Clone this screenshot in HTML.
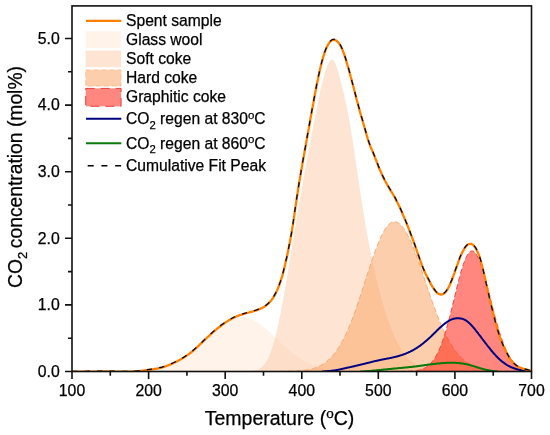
<!DOCTYPE html>
<html><head><meta charset="utf-8"><title>CO2 concentration vs Temperature</title>
<style>html,body{margin:0;padding:0;background:#fff}svg{display:block}</style></head>
<body>
<svg width="550" height="435" viewBox="0 0 550 435">
<rect width="550" height="435" fill="#fff"/>
<defs><clipPath id="c"><rect x="72.0" y="5.9" width="459.5" height="366.1"/></clipPath></defs>
<g clip-path="url(#c)">
<path d="M72.0,371.5L72.8,371.5L73.5,371.5L74.3,371.5L75.1,371.5L75.8,371.5L76.6,371.5L77.4,371.5L78.1,371.5L78.9,371.5L79.7,371.5L80.4,371.5L81.2,371.5L82.0,371.5L82.7,371.5L83.5,371.5L84.3,371.5L85.0,371.5L85.8,371.5L86.6,371.5L87.3,371.5L88.1,371.5L88.8,371.5L89.6,371.5L90.4,371.5L91.1,371.5L91.9,371.5L92.7,371.5L93.4,371.5L94.2,371.5L95.0,371.5L95.7,371.5L96.5,371.5L97.3,371.5L98.0,371.5L98.8,371.5L99.6,371.5L100.3,371.5L101.1,371.5L101.9,371.5L102.6,371.5L103.4,371.5L104.2,371.5L104.9,371.5L105.7,371.5L106.5,371.5L107.2,371.5L108.0,371.5L108.8,371.5L109.5,371.5L110.3,371.5L111.1,371.4L111.8,371.4L112.6,371.4L113.4,371.4L114.1,371.4L114.9,371.4L115.7,371.4L116.4,371.4L117.2,371.4L118.0,371.4L118.7,371.4L119.5,371.4L120.2,371.4L121.0,371.4L121.8,371.3L122.5,371.3L123.3,371.3L124.1,371.3L124.8,371.3L125.6,371.3L126.4,371.3L127.1,371.2L127.9,371.2L128.7,371.2L129.4,371.2L130.2,371.2L131.0,371.1L131.7,371.1L132.5,371.1L133.3,371.1L134.0,371.0L134.8,371.0L135.6,371.0L136.3,370.9L137.1,370.9L137.9,370.8L138.6,370.8L139.4,370.7L140.2,370.7L140.9,370.6L141.7,370.6L142.5,370.5L143.2,370.5L144.0,370.4L144.8,370.3L145.5,370.2L146.3,370.2L147.1,370.1L147.8,370.0L148.6,369.9L149.3,369.8L150.1,369.7L150.9,369.6L151.6,369.5L152.4,369.4L153.2,369.3L153.9,369.1L154.7,369.0L155.5,368.9L156.2,368.7L157.0,368.6L157.8,368.4L158.5,368.2L159.3,368.1L160.1,367.9L160.8,367.7L161.6,367.5L162.4,367.3L163.1,367.1L163.9,366.9L164.7,366.6L165.4,366.4L166.2,366.1L167.0,365.9L167.7,365.6L168.5,365.3L169.3,365.0L170.0,364.7L170.8,364.4L171.6,364.1L172.3,363.8L173.1,363.4L173.9,363.1L174.6,362.7L175.4,362.3L176.2,362.0L176.9,361.6L177.7,361.2L178.5,360.7L179.2,360.3L180.0,359.9L180.7,359.4L181.5,358.9L182.3,358.5L183.0,358.0L183.8,357.5L184.6,356.9L185.3,356.4L186.1,355.9L186.9,355.3L187.6,354.8L188.4,354.2L189.2,353.6L189.9,353.0L190.7,352.4L191.5,351.8L192.2,351.2L193.0,350.6L193.8,349.9L194.5,349.3L195.3,348.6L196.1,347.9L196.8,347.3L197.6,346.6L198.4,345.9L199.1,345.2L199.9,344.5L200.7,343.8L201.4,343.1L202.2,342.4L203.0,341.6L203.7,340.9L204.5,340.2L205.3,339.5L206.0,338.7L206.8,338.0L207.6,337.3L208.3,336.6L209.1,335.8L209.8,335.1L210.6,334.4L211.4,333.7L212.1,333.0L212.9,332.3L213.7,331.6L214.4,330.9L215.2,330.2L216.0,329.5L216.7,328.9L217.5,328.2L218.3,327.6L219.0,326.9L219.8,326.3L220.6,325.7L221.3,325.1L222.1,324.5L222.9,324.0L223.6,323.4L224.4,322.9L225.2,322.4L225.9,321.9L226.7,321.4L227.5,321.0L228.2,320.6L229.0,320.2L229.8,319.8L230.5,319.4L231.3,319.1L232.1,318.8L232.8,318.5L233.6,318.2L234.4,317.9L235.1,317.7L235.9,317.5L236.7,317.4L237.4,317.2L238.2,317.1L239.0,317.0L239.7,316.9L240.5,316.9L241.2,316.9L242.0,316.9L242.8,316.9L243.5,317.0L244.3,317.1L245.1,317.2L245.8,317.4L246.6,317.5L247.4,317.7L248.1,317.9L248.9,318.2L249.7,318.5L250.4,318.8L251.2,319.1L252.0,319.4L252.7,319.8L253.5,320.2L254.3,320.6L255.0,321.0L255.8,321.4L256.6,321.9L257.3,322.4L258.1,322.9L258.9,323.4L259.6,324.0L260.4,324.5L261.2,325.1L261.9,325.7L262.7,326.3L263.5,326.9L264.2,327.6L265.0,328.2L265.8,328.9L266.5,329.5L267.3,330.2L268.1,330.9L268.8,331.6L269.6,332.3L270.4,333.0L271.1,333.7L271.9,334.4L272.6,335.1L273.4,335.8L274.2,336.6L274.9,337.3L275.7,338.0L276.5,338.7L277.2,339.5L278.0,340.2L278.8,340.9L279.5,341.6L280.3,342.4L281.1,343.1L281.8,343.8L282.6,344.5L283.4,345.2L284.1,345.9L284.9,346.6L285.7,347.3L286.4,347.9L287.2,348.6L288.0,349.3L288.7,349.9L289.5,350.6L290.3,351.2L291.0,351.8L291.8,352.4L292.6,353.0L293.3,353.6L294.1,354.2L294.9,354.8L295.6,355.3L296.4,355.9L297.2,356.4L297.9,356.9L298.7,357.5L299.5,358.0L300.2,358.5L301.0,358.9L301.8,359.4L302.5,359.9L303.3,360.3L304.0,360.7L304.8,361.2L305.6,361.6L306.3,362.0L307.1,362.3L307.9,362.7L308.6,363.1L309.4,363.4L310.2,363.8L310.9,364.1L311.7,364.4L312.5,364.7L313.2,365.0L314.0,365.3L314.8,365.6L315.5,365.9L316.3,366.1L317.1,366.4L317.8,366.6L318.6,366.9L319.4,367.1L320.1,367.3L320.9,367.5L321.7,367.7L322.4,367.9L323.2,368.1L324.0,368.2L324.7,368.4L325.5,368.6L326.3,368.7L327.0,368.9L327.8,369.0L328.6,369.1L329.3,369.3L330.1,369.4L330.9,369.5L331.6,369.6L332.4,369.7L333.1,369.8L333.9,369.9L334.7,370.0L335.4,370.1L336.2,370.2L337.0,370.2L337.7,370.3L338.5,370.4L339.3,370.5L340.0,370.5L340.8,370.6L341.6,370.6L342.3,370.7L343.1,370.7L343.9,370.8L344.6,370.8L345.4,370.9L346.2,370.9L346.9,371.0L347.7,371.0L348.5,371.0L349.2,371.1L350.0,371.1L350.8,371.1L351.5,371.1L352.3,371.2L353.1,371.2L353.8,371.2L354.6,371.2L355.4,371.2L356.1,371.3L356.9,371.3L357.7,371.3L358.4,371.3L359.2,371.3L360.0,371.3L360.7,371.3L361.5,371.4L362.3,371.4L363.0,371.4L363.8,371.4L364.5,371.4L365.3,371.4L366.1,371.4L366.8,371.4L367.6,371.4L368.4,371.4L369.1,371.4L369.9,371.4L370.7,371.4L371.4,371.4L372.2,371.5L373.0,371.5L373.7,371.5L374.5,371.5L375.3,371.5L376.0,371.5L376.8,371.5L377.6,371.5L378.3,371.5L379.1,371.5L379.9,371.5L380.6,371.5L381.4,371.5L382.2,371.5L382.9,371.5L383.7,371.5L384.5,371.5L385.2,371.5L386.0,371.5L386.8,371.5L387.5,371.5L388.3,371.5L389.1,371.5L389.8,371.5L390.6,371.5L391.4,371.5L392.1,371.5L392.9,371.5L393.6,371.5L394.4,371.5L395.2,371.5L395.9,371.5L396.7,371.5L397.5,371.5L398.2,371.5L399.0,371.5L399.8,371.5L400.5,371.5L401.3,371.5L402.1,371.5L402.8,371.5L403.6,371.5L404.4,371.5L405.1,371.5L405.9,371.5L406.7,371.5L407.4,371.5L408.2,371.5L409.0,371.5L409.7,371.5L410.5,371.5L411.3,371.5L412.0,371.5L412.8,371.5L413.6,371.5L414.3,371.5L415.1,371.5L415.9,371.5L416.6,371.5L417.4,371.5L418.2,371.5L418.9,371.5L419.7,371.5L420.5,371.5L421.2,371.5L422.0,371.5L422.8,371.5L423.5,371.5L424.3,371.5L425.0,371.5L425.8,371.5L426.6,371.5L427.3,371.5L428.1,371.5L428.9,371.5L429.6,371.5L430.4,371.5L431.2,371.5L431.9,371.5L432.7,371.5L433.5,371.5L434.2,371.5L435.0,371.5L435.8,371.5L436.5,371.5L437.3,371.5L438.1,371.5L438.8,371.5L439.6,371.5L440.4,371.5L441.1,371.5L441.9,371.5L442.7,371.5L443.4,371.5L444.2,371.5L445.0,371.5L445.7,371.5L446.5,371.5L447.3,371.5L448.0,371.5L448.8,371.5L449.6,371.5L450.3,371.5L451.1,371.5L451.9,371.5L452.6,371.5L453.4,371.5L454.2,371.5L454.9,371.5L455.7,371.5L456.4,371.5L457.2,371.5L458.0,371.5L458.7,371.5L459.5,371.5L460.3,371.5L461.0,371.5L461.8,371.5L462.6,371.5L463.3,371.5L464.1,371.5L464.9,371.5L465.6,371.5L466.4,371.5L467.2,371.5L467.9,371.5L468.7,371.5L469.5,371.5L470.2,371.5L471.0,371.5L471.8,371.5L472.5,371.5L473.3,371.5L474.1,371.5L474.8,371.5L475.6,371.5L476.4,371.5L477.1,371.5L477.9,371.5L478.7,371.5L479.4,371.5L480.2,371.5L481.0,371.5L481.7,371.5L482.5,371.5L483.3,371.5L484.0,371.5L484.8,371.5L485.6,371.5L486.3,371.5L487.1,371.5L487.8,371.5L488.6,371.5L489.4,371.5L490.1,371.5L490.9,371.5L491.7,371.5L492.4,371.5L493.2,371.5L494.0,371.5L494.7,371.5L495.5,371.5L496.3,371.5L497.0,371.5L497.8,371.5L498.6,371.5L499.3,371.5L500.1,371.5L500.9,371.5L501.6,371.5L502.4,371.5L503.2,371.5L503.9,371.5L504.7,371.5L505.5,371.5L506.2,371.5L507.0,371.5L507.8,371.5L508.5,371.5L509.3,371.5L510.1,371.5L510.8,371.5L511.6,371.5L512.4,371.5L513.1,371.5L513.9,371.5L514.7,371.5L515.4,371.5L516.2,371.5L516.9,371.5L517.7,371.5L518.5,371.5L519.2,371.5L520.0,371.5L520.8,371.5L521.5,371.5L522.3,371.5L523.1,371.5L523.8,371.5L524.6,371.5L525.4,371.5L526.1,371.5L526.9,371.5L527.7,371.5L528.4,371.5L529.2,371.5L530.0,371.5L530.7,371.5L531.5,371.5L531.5,371.5 L72.0,371.5 Z" fill="#ffe7d5" fill-opacity="0.5"/>
<path d="M72.0,371.5L72.8,371.5L73.5,371.5L74.3,371.5L75.1,371.5L75.8,371.5L76.6,371.5L77.4,371.5L78.1,371.5L78.9,371.5L79.7,371.5L80.4,371.5L81.2,371.5L82.0,371.5L82.7,371.5L83.5,371.5L84.3,371.5L85.0,371.5L85.8,371.5L86.6,371.5L87.3,371.5L88.1,371.5L88.8,371.5L89.6,371.5L90.4,371.5L91.1,371.5L91.9,371.5L92.7,371.5L93.4,371.5L94.2,371.5L95.0,371.5L95.7,371.5L96.5,371.5L97.3,371.5L98.0,371.5L98.8,371.5L99.6,371.5L100.3,371.5L101.1,371.5L101.9,371.5L102.6,371.5L103.4,371.5L104.2,371.5L104.9,371.5L105.7,371.5L106.5,371.5L107.2,371.5L108.0,371.5L108.8,371.5L109.5,371.5L110.3,371.5L111.1,371.5L111.8,371.5L112.6,371.5L113.4,371.5L114.1,371.5L114.9,371.5L115.7,371.5L116.4,371.5L117.2,371.5L118.0,371.5L118.7,371.5L119.5,371.5L120.2,371.5L121.0,371.5L121.8,371.5L122.5,371.5L123.3,371.5L124.1,371.5L124.8,371.5L125.6,371.5L126.4,371.5L127.1,371.5L127.9,371.5L128.7,371.5L129.4,371.5L130.2,371.5L131.0,371.5L131.7,371.5L132.5,371.5L133.3,371.5L134.0,371.5L134.8,371.5L135.6,371.5L136.3,371.5L137.1,371.5L137.9,371.5L138.6,371.5L139.4,371.5L140.2,371.5L140.9,371.5L141.7,371.5L142.5,371.5L143.2,371.5L144.0,371.5L144.8,371.5L145.5,371.5L146.3,371.5L147.1,371.5L147.8,371.5L148.6,371.5L149.3,371.5L150.1,371.5L150.9,371.5L151.6,371.5L152.4,371.5L153.2,371.5L153.9,371.5L154.7,371.5L155.5,371.5L156.2,371.5L157.0,371.5L157.8,371.5L158.5,371.5L159.3,371.5L160.1,371.5L160.8,371.5L161.6,371.5L162.4,371.5L163.1,371.5L163.9,371.5L164.7,371.5L165.4,371.5L166.2,371.5L167.0,371.5L167.7,371.5L168.5,371.5L169.3,371.5L170.0,371.5L170.8,371.5L171.6,371.5L172.3,371.5L173.1,371.5L173.9,371.5L174.6,371.5L175.4,371.5L176.2,371.5L176.9,371.5L177.7,371.5L178.5,371.5L179.2,371.5L180.0,371.5L180.7,371.5L181.5,371.5L182.3,371.5L183.0,371.5L183.8,371.5L184.6,371.5L185.3,371.5L186.1,371.5L186.9,371.5L187.6,371.5L188.4,371.5L189.2,371.5L189.9,371.5L190.7,371.5L191.5,371.5L192.2,371.5L193.0,371.5L193.8,371.5L194.5,371.5L195.3,371.5L196.1,371.5L196.8,371.5L197.6,371.5L198.4,371.5L199.1,371.5L199.9,371.5L200.7,371.5L201.4,371.5L202.2,371.5L203.0,371.5L203.7,371.5L204.5,371.5L205.3,371.5L206.0,371.5L206.8,371.5L207.6,371.5L208.3,371.5L209.1,371.5L209.8,371.5L210.6,371.5L211.4,371.5L212.1,371.5L212.9,371.5L213.7,371.5L214.4,371.5L215.2,371.5L216.0,371.5L216.7,371.5L217.5,371.5L218.3,371.5L219.0,371.5L219.8,371.5L220.6,371.5L221.3,371.5L222.1,371.5L222.9,371.5L223.6,371.5L224.4,371.5L225.2,371.5L225.9,371.5L226.7,371.5L227.5,371.5L228.2,371.5L229.0,371.5L229.8,371.5L230.5,371.5L231.3,371.5L232.1,371.5L232.8,371.5L233.6,371.5L234.4,371.5L235.1,371.5L235.9,371.5L236.7,371.5L237.4,371.5L238.2,371.5L239.0,371.5L239.7,371.5L240.5,371.5L241.2,371.5L242.0,371.5L242.8,371.5L243.5,371.5L244.3,371.5L245.1,371.5L245.8,371.5L246.6,371.5L247.4,371.5L248.1,371.5L248.9,371.5L249.7,371.5L250.4,371.5L251.2,371.5L252.0,370.9L252.7,370.8L253.5,370.7L254.3,370.6L255.0,370.4L255.8,370.3L256.6,370.1L257.3,369.8L258.1,369.5L258.9,369.2L259.6,368.7L260.4,368.2L261.2,367.7L261.9,367.1L262.7,366.3L263.5,365.5L264.2,364.6L265.0,363.6L265.8,362.5L266.5,361.3L267.3,359.9L268.1,358.5L268.8,356.9L269.6,355.1L270.4,353.3L271.1,351.3L271.9,349.1L272.6,346.8L273.4,344.3L274.2,341.6L274.9,338.8L275.7,335.8L276.5,332.6L277.2,329.3L278.0,325.9L278.8,322.3L279.5,318.5L280.3,314.7L281.1,310.7L281.8,306.6L282.6,302.5L283.4,298.2L284.1,293.9L284.9,289.5L285.7,285.0L286.4,280.5L287.2,276.0L288.0,271.4L288.7,266.7L289.5,262.1L290.3,257.4L291.0,252.8L291.8,248.1L292.6,243.5L293.3,238.9L294.1,234.3L294.9,229.7L295.6,225.1L296.4,220.5L297.2,216.0L297.9,211.5L298.7,207.0L299.5,202.5L300.2,198.1L301.0,193.6L301.8,189.2L302.5,184.8L303.3,180.5L304.0,176.1L304.8,171.8L305.6,167.5L306.3,163.3L307.1,159.0L307.9,154.8L308.6,150.6L309.4,146.5L310.2,142.4L310.9,138.3L311.7,134.3L312.5,130.2L313.2,126.3L314.0,122.3L314.8,118.4L315.5,114.5L316.3,110.7L317.1,106.9L317.8,103.1L318.6,99.4L319.4,95.7L320.1,92.1L320.9,88.6L321.7,85.3L322.4,82.0L323.2,78.9L324.0,76.0L324.7,73.3L325.5,70.7L326.3,68.4L327.0,66.3L327.8,64.5L328.6,62.9L329.3,61.6L330.1,60.7L330.9,60.0L331.6,59.7L332.4,59.7L333.1,60.1L333.9,60.9L334.7,62.1L335.4,63.7L336.2,65.6L337.0,67.8L337.7,70.3L338.5,72.9L339.3,75.7L340.0,78.6L340.8,81.6L341.6,84.6L342.3,87.7L343.1,90.8L343.9,94.1L344.6,97.4L345.4,100.9L346.2,104.4L346.9,108.1L347.7,112.0L348.5,115.9L349.2,120.1L350.0,124.4L350.8,129.0L351.5,133.7L352.3,138.5L353.1,143.5L353.8,148.6L354.6,153.8L355.4,159.0L356.1,164.3L356.9,169.6L357.7,174.8L358.4,180.0L359.2,185.2L360.0,190.2L360.7,195.2L361.5,200.1L362.3,204.9L363.0,209.7L363.8,214.4L364.5,219.0L365.3,223.5L366.1,227.9L366.8,232.2L367.6,236.5L368.4,240.6L369.1,244.7L369.9,248.7L370.7,252.6L371.4,256.4L372.2,260.1L373.0,263.8L373.7,267.3L374.5,270.8L375.3,274.2L376.0,277.6L376.8,280.8L377.6,284.0L378.3,287.1L379.1,290.1L379.9,293.1L380.6,295.9L381.4,298.7L382.2,301.5L382.9,304.1L383.7,306.7L384.5,309.2L385.2,311.7L386.0,314.1L386.8,316.4L387.5,318.6L388.3,320.8L389.1,323.0L389.8,325.0L390.6,327.0L391.4,329.0L392.1,330.9L392.9,332.7L393.6,334.5L394.4,336.2L395.2,337.8L395.9,339.4L396.7,341.0L397.5,342.5L398.2,343.9L399.0,345.3L399.8,346.7L400.5,347.9L401.3,349.2L402.1,350.4L402.8,351.5L403.6,352.6L404.4,353.7L405.1,354.7L405.9,355.7L406.7,356.6L407.4,357.5L408.2,358.4L409.0,359.2L409.7,360.0L410.5,360.7L411.3,361.4L412.0,362.1L412.8,362.7L413.6,363.3L414.3,363.9L415.1,364.5L415.9,365.0L416.6,365.4L417.4,365.9L418.2,366.3L418.9,366.7L419.7,367.1L420.5,367.4L421.2,367.8L422.0,368.1L422.8,368.3L423.5,368.6L424.3,368.8L425.0,369.1L425.8,369.3L426.6,369.4L427.3,369.6L428.1,369.8L428.9,369.9L429.6,370.0L430.4,370.1L431.2,370.2L431.9,370.3L432.7,370.4L433.5,370.5L434.2,370.5L435.0,370.6L435.8,370.6L436.5,370.7L437.3,370.7L438.1,370.7L438.8,370.8L439.6,370.8L440.4,370.8L441.1,370.9L441.9,370.9L442.7,371.0L443.4,371.0L444.2,371.0L445.0,371.1L445.7,371.1L446.5,371.2L447.3,371.3L448.0,371.5L448.8,371.5L449.6,371.5L450.3,371.5L451.1,371.5L451.9,371.5L452.6,371.5L453.4,371.5L454.2,371.5L454.9,371.5L455.7,371.5L456.4,371.5L457.2,371.5L458.0,371.5L458.7,371.5L459.5,371.5L460.3,371.5L461.0,371.5L461.8,371.5L462.6,371.5L463.3,371.5L464.1,371.5L464.9,371.5L465.6,371.5L466.4,371.5L467.2,371.5L467.9,371.5L468.7,371.5L469.5,371.5L470.2,371.5L471.0,371.5L471.8,371.5L472.5,371.5L473.3,371.5L474.1,371.5L474.8,371.5L475.6,371.5L476.4,371.5L477.1,371.5L477.9,371.5L478.7,371.5L479.4,371.5L480.2,371.5L481.0,371.5L481.7,371.5L482.5,371.5L483.3,371.5L484.0,371.5L484.8,371.5L485.6,371.5L486.3,371.5L487.1,371.5L487.8,371.5L488.6,371.5L489.4,371.5L490.1,371.5L490.9,371.5L491.7,371.5L492.4,371.5L493.2,371.5L494.0,371.5L494.7,371.5L495.5,371.5L496.3,371.5L497.0,371.5L497.8,371.5L498.6,371.5L499.3,371.5L500.1,371.5L500.9,371.5L501.6,371.5L502.4,371.5L503.2,371.5L503.9,371.5L504.7,371.5L505.5,371.5L506.2,371.5L507.0,371.5L507.8,371.5L508.5,371.5L509.3,371.5L510.1,371.5L510.8,371.5L511.6,371.5L512.4,371.5L513.1,371.5L513.9,371.5L514.7,371.5L515.4,371.5L516.2,371.5L516.9,371.5L517.7,371.5L518.5,371.5L519.2,371.5L520.0,371.5L520.8,371.5L521.5,371.5L522.3,371.5L523.1,371.5L523.8,371.5L524.6,371.5L525.4,371.5L526.1,371.5L526.9,371.5L527.7,371.5L528.4,371.5L529.2,371.5L530.0,371.5L530.7,371.5L531.5,371.5L531.5,371.5 L72.0,371.5 Z" fill="#fbc9a8" fill-opacity="0.5"/>
<path d="M72.0,371.5L72.8,371.5L73.5,371.5L74.3,371.5L75.1,371.5L75.8,371.5L76.6,371.5L77.4,371.5L78.1,371.5L78.9,371.5L79.7,371.5L80.4,371.5L81.2,371.5L82.0,371.5L82.7,371.5L83.5,371.5L84.3,371.5L85.0,371.5L85.8,371.5L86.6,371.5L87.3,371.5L88.1,371.5L88.8,371.5L89.6,371.5L90.4,371.5L91.1,371.5L91.9,371.5L92.7,371.5L93.4,371.5L94.2,371.5L95.0,371.5L95.7,371.5L96.5,371.5L97.3,371.5L98.0,371.5L98.8,371.5L99.6,371.5L100.3,371.5L101.1,371.5L101.9,371.5L102.6,371.5L103.4,371.5L104.2,371.5L104.9,371.5L105.7,371.5L106.5,371.5L107.2,371.5L108.0,371.5L108.8,371.5L109.5,371.5L110.3,371.5L111.1,371.5L111.8,371.5L112.6,371.5L113.4,371.5L114.1,371.5L114.9,371.5L115.7,371.5L116.4,371.5L117.2,371.5L118.0,371.5L118.7,371.5L119.5,371.5L120.2,371.5L121.0,371.5L121.8,371.5L122.5,371.5L123.3,371.5L124.1,371.5L124.8,371.5L125.6,371.5L126.4,371.5L127.1,371.5L127.9,371.5L128.7,371.5L129.4,371.5L130.2,371.5L131.0,371.5L131.7,371.5L132.5,371.5L133.3,371.5L134.0,371.5L134.8,371.5L135.6,371.5L136.3,371.5L137.1,371.5L137.9,371.5L138.6,371.5L139.4,371.5L140.2,371.5L140.9,371.5L141.7,371.5L142.5,371.5L143.2,371.5L144.0,371.5L144.8,371.5L145.5,371.5L146.3,371.5L147.1,371.5L147.8,371.5L148.6,371.5L149.3,371.5L150.1,371.5L150.9,371.5L151.6,371.5L152.4,371.5L153.2,371.5L153.9,371.5L154.7,371.5L155.5,371.5L156.2,371.5L157.0,371.5L157.8,371.5L158.5,371.5L159.3,371.5L160.1,371.5L160.8,371.5L161.6,371.5L162.4,371.5L163.1,371.5L163.9,371.5L164.7,371.5L165.4,371.5L166.2,371.5L167.0,371.5L167.7,371.5L168.5,371.5L169.3,371.5L170.0,371.5L170.8,371.5L171.6,371.5L172.3,371.5L173.1,371.5L173.9,371.5L174.6,371.5L175.4,371.5L176.2,371.5L176.9,371.5L177.7,371.5L178.5,371.5L179.2,371.5L180.0,371.5L180.7,371.5L181.5,371.5L182.3,371.5L183.0,371.5L183.8,371.5L184.6,371.5L185.3,371.5L186.1,371.5L186.9,371.5L187.6,371.5L188.4,371.5L189.2,371.5L189.9,371.5L190.7,371.5L191.5,371.5L192.2,371.5L193.0,371.5L193.8,371.5L194.5,371.5L195.3,371.5L196.1,371.5L196.8,371.5L197.6,371.5L198.4,371.5L199.1,371.5L199.9,371.5L200.7,371.5L201.4,371.5L202.2,371.5L203.0,371.5L203.7,371.5L204.5,371.5L205.3,371.5L206.0,371.5L206.8,371.5L207.6,371.5L208.3,371.5L209.1,371.5L209.8,371.5L210.6,371.5L211.4,371.5L212.1,371.5L212.9,371.5L213.7,371.5L214.4,371.5L215.2,371.5L216.0,371.5L216.7,371.5L217.5,371.5L218.3,371.5L219.0,371.5L219.8,371.5L220.6,371.5L221.3,371.5L222.1,371.5L222.9,371.5L223.6,371.5L224.4,371.5L225.2,371.5L225.9,371.5L226.7,371.5L227.5,371.5L228.2,371.5L229.0,371.5L229.8,371.5L230.5,371.5L231.3,371.5L232.1,371.5L232.8,371.5L233.6,371.5L234.4,371.5L235.1,371.5L235.9,371.5L236.7,371.5L237.4,371.5L238.2,371.5L239.0,371.5L239.7,371.5L240.5,371.5L241.2,371.5L242.0,371.5L242.8,371.5L243.5,371.5L244.3,371.5L245.1,371.5L245.8,371.5L246.6,371.5L247.4,371.5L248.1,371.5L248.9,371.5L249.7,371.5L250.4,371.5L251.2,371.5L252.0,371.5L252.7,371.5L253.5,371.5L254.3,371.5L255.0,371.5L255.8,371.5L256.6,371.5L257.3,371.5L258.1,371.5L258.9,371.5L259.6,371.5L260.4,371.5L261.2,371.5L261.9,371.5L262.7,371.5L263.5,371.5L264.2,371.5L265.0,371.5L265.8,371.5L266.5,371.5L267.3,371.5L268.1,371.5L268.8,371.5L269.6,371.5L270.4,371.5L271.1,371.5L271.9,371.5L272.6,371.5L273.4,371.5L274.2,371.5L274.9,371.5L275.7,371.5L276.5,371.5L277.2,371.5L278.0,371.4L278.8,371.4L279.5,371.4L280.3,371.4L281.1,371.4L281.8,371.4L282.6,371.4L283.4,371.4L284.1,371.4L284.9,371.4L285.7,371.4L286.4,371.3L287.2,371.3L288.0,371.3L288.7,371.3L289.5,371.3L290.3,371.3L291.0,371.2L291.8,371.2L292.6,371.2L293.3,371.1L294.1,371.1L294.9,371.1L295.6,371.0L296.4,371.0L297.2,370.9L297.9,370.9L298.7,370.8L299.5,370.8L300.2,370.7L301.0,370.6L301.8,370.6L302.5,370.5L303.3,370.4L304.0,370.3L304.8,370.2L305.6,370.1L306.3,370.0L307.1,369.8L307.9,369.7L308.6,369.6L309.4,369.4L310.2,369.2L310.9,369.1L311.7,368.9L312.5,368.7L313.2,368.4L314.0,368.2L314.8,368.0L315.5,367.7L316.3,367.4L317.1,367.1L317.8,366.8L318.6,366.5L319.4,366.1L320.1,365.7L320.9,365.3L321.7,364.9L322.4,364.5L323.2,364.0L324.0,363.5L324.7,363.0L325.5,362.4L326.3,361.9L327.0,361.2L327.8,360.6L328.6,359.9L329.3,359.2L330.1,358.5L330.9,357.7L331.6,356.9L332.4,356.0L333.1,355.2L333.9,354.2L334.7,353.3L335.4,352.3L336.2,351.2L337.0,350.1L337.7,349.0L338.5,347.8L339.3,346.6L340.0,345.3L340.8,344.0L341.6,342.7L342.3,341.3L343.1,339.8L343.9,338.3L344.6,336.8L345.4,335.2L346.2,333.6L346.9,331.9L347.7,330.2L348.5,328.4L349.2,326.6L350.0,324.7L350.8,322.9L351.5,320.9L352.3,318.9L353.1,316.9L353.8,314.8L354.6,312.7L355.4,310.6L356.1,308.4L356.9,306.2L357.7,304.0L358.4,301.8L359.2,299.5L360.0,297.2L360.7,294.8L361.5,292.5L362.3,290.1L363.0,287.8L363.8,285.4L364.5,283.0L365.3,280.6L366.1,278.2L366.8,275.8L367.6,273.5L368.4,271.1L369.1,268.7L369.9,266.4L370.7,264.1L371.4,261.8L372.2,259.5L373.0,257.3L373.7,255.1L374.5,252.9L375.3,250.8L376.0,248.7L376.8,246.7L377.6,244.8L378.3,242.9L379.1,241.0L379.9,239.3L380.6,237.6L381.4,235.9L382.2,234.4L382.9,232.9L383.7,231.5L384.5,230.2L385.2,228.9L386.0,227.8L386.8,226.7L387.5,225.8L388.3,224.9L389.1,224.2L389.8,223.5L390.6,222.9L391.4,222.5L392.1,222.1L392.9,221.9L393.6,221.7L394.4,221.7L395.2,221.7L395.9,221.8L396.7,222.1L397.5,222.4L398.2,222.8L399.0,223.3L399.8,223.9L400.5,224.6L401.3,225.4L402.1,226.3L402.8,227.2L403.6,228.2L404.4,229.4L405.1,230.6L405.9,231.8L406.7,233.2L407.4,234.6L408.2,236.1L409.0,237.6L409.7,239.3L410.5,240.9L411.3,242.7L412.0,244.5L412.8,246.3L413.6,248.2L414.3,250.2L415.1,252.2L415.9,254.2L416.6,256.3L417.4,258.4L418.2,260.5L418.9,262.7L419.7,264.9L420.5,267.1L421.2,269.3L422.0,271.6L422.8,273.8L423.5,276.1L424.3,278.3L425.0,280.6L425.8,282.9L426.6,285.2L427.3,287.4L428.1,289.7L428.9,291.9L429.6,294.1L430.4,296.4L431.2,298.6L431.9,300.7L432.7,302.9L433.5,305.0L434.2,307.1L435.0,309.2L435.8,311.3L436.5,313.3L437.3,315.3L438.1,317.2L438.8,319.1L439.6,321.0L440.4,322.9L441.1,324.7L441.9,326.4L442.7,328.1L443.4,329.8L444.2,331.5L445.0,333.1L445.7,334.7L446.5,336.2L447.3,337.7L448.0,339.1L448.8,340.5L449.6,341.8L450.3,343.2L451.1,344.4L451.9,345.7L452.6,346.9L453.4,348.0L454.2,349.1L454.9,350.2L455.7,351.2L456.4,352.2L457.2,353.2L458.0,354.1L458.7,355.0L459.5,355.8L460.3,356.6L461.0,357.4L461.8,358.2L462.6,358.9L463.3,359.6L464.1,360.2L464.9,360.9L465.6,361.5L466.4,362.0L467.2,362.6L467.9,363.1L468.7,363.6L469.5,364.0L470.2,364.5L471.0,364.9L471.8,365.3L472.5,365.7L473.3,366.1L474.1,366.4L474.8,366.7L475.6,367.0L476.4,367.3L477.1,367.6L477.9,367.8L478.7,368.1L479.4,368.3L480.2,368.5L481.0,368.7L481.7,368.9L482.5,369.1L483.3,369.3L484.0,369.4L484.8,369.6L485.6,369.7L486.3,369.8L487.1,370.0L487.8,370.1L488.6,370.2L489.4,370.3L490.1,370.4L490.9,370.5L491.7,370.5L492.4,370.6L493.2,370.7L494.0,370.7L494.7,370.8L495.5,370.9L496.3,370.9L497.0,371.0L497.8,371.0L498.6,371.0L499.3,371.1L500.1,371.1L500.9,371.1L501.6,371.2L502.4,371.2L503.2,371.2L503.9,371.2L504.7,371.3L505.5,371.3L506.2,371.3L507.0,371.3L507.8,371.3L508.5,371.4L509.3,371.4L510.1,371.4L510.8,371.4L511.6,371.4L512.4,371.4L513.1,371.4L513.9,371.4L514.7,371.4L515.4,371.4L516.2,371.4L516.9,371.4L517.7,371.5L518.5,371.5L519.2,371.5L520.0,371.5L520.8,371.5L521.5,371.5L522.3,371.5L523.1,371.5L523.8,371.5L524.6,371.5L525.4,371.5L526.1,371.5L526.9,371.5L527.7,371.5L528.4,371.5L529.2,371.5L530.0,371.5L530.7,371.5L531.5,371.5L531.5,371.5 L72.0,371.5 Z" fill="#fba466" fill-opacity="0.54"/>
<path d="M72.0,371.5L72.8,371.5L73.5,371.5L74.3,371.5L75.1,371.5L75.8,371.5L76.6,371.5L77.4,371.5L78.1,371.5L78.9,371.5L79.7,371.5L80.4,371.5L81.2,371.5L82.0,371.5L82.7,371.5L83.5,371.5L84.3,371.5L85.0,371.5L85.8,371.5L86.6,371.5L87.3,371.5L88.1,371.5L88.8,371.5L89.6,371.5L90.4,371.5L91.1,371.5L91.9,371.5L92.7,371.5L93.4,371.5L94.2,371.5L95.0,371.5L95.7,371.5L96.5,371.5L97.3,371.5L98.0,371.5L98.8,371.5L99.6,371.5L100.3,371.5L101.1,371.5L101.9,371.5L102.6,371.5L103.4,371.5L104.2,371.5L104.9,371.5L105.7,371.5L106.5,371.5L107.2,371.5L108.0,371.5L108.8,371.5L109.5,371.5L110.3,371.5L111.1,371.5L111.8,371.5L112.6,371.5L113.4,371.5L114.1,371.5L114.9,371.5L115.7,371.5L116.4,371.5L117.2,371.5L118.0,371.5L118.7,371.5L119.5,371.5L120.2,371.5L121.0,371.5L121.8,371.5L122.5,371.5L123.3,371.5L124.1,371.5L124.8,371.5L125.6,371.5L126.4,371.5L127.1,371.5L127.9,371.5L128.7,371.5L129.4,371.5L130.2,371.5L131.0,371.5L131.7,371.5L132.5,371.5L133.3,371.5L134.0,371.5L134.8,371.5L135.6,371.5L136.3,371.5L137.1,371.5L137.9,371.5L138.6,371.5L139.4,371.5L140.2,371.5L140.9,371.5L141.7,371.5L142.5,371.5L143.2,371.5L144.0,371.5L144.8,371.5L145.5,371.5L146.3,371.5L147.1,371.5L147.8,371.5L148.6,371.5L149.3,371.5L150.1,371.5L150.9,371.5L151.6,371.5L152.4,371.5L153.2,371.5L153.9,371.5L154.7,371.5L155.5,371.5L156.2,371.5L157.0,371.5L157.8,371.5L158.5,371.5L159.3,371.5L160.1,371.5L160.8,371.5L161.6,371.5L162.4,371.5L163.1,371.5L163.9,371.5L164.7,371.5L165.4,371.5L166.2,371.5L167.0,371.5L167.7,371.5L168.5,371.5L169.3,371.5L170.0,371.5L170.8,371.5L171.6,371.5L172.3,371.5L173.1,371.5L173.9,371.5L174.6,371.5L175.4,371.5L176.2,371.5L176.9,371.5L177.7,371.5L178.5,371.5L179.2,371.5L180.0,371.5L180.7,371.5L181.5,371.5L182.3,371.5L183.0,371.5L183.8,371.5L184.6,371.5L185.3,371.5L186.1,371.5L186.9,371.5L187.6,371.5L188.4,371.5L189.2,371.5L189.9,371.5L190.7,371.5L191.5,371.5L192.2,371.5L193.0,371.5L193.8,371.5L194.5,371.5L195.3,371.5L196.1,371.5L196.8,371.5L197.6,371.5L198.4,371.5L199.1,371.5L199.9,371.5L200.7,371.5L201.4,371.5L202.2,371.5L203.0,371.5L203.7,371.5L204.5,371.5L205.3,371.5L206.0,371.5L206.8,371.5L207.6,371.5L208.3,371.5L209.1,371.5L209.8,371.5L210.6,371.5L211.4,371.5L212.1,371.5L212.9,371.5L213.7,371.5L214.4,371.5L215.2,371.5L216.0,371.5L216.7,371.5L217.5,371.5L218.3,371.5L219.0,371.5L219.8,371.5L220.6,371.5L221.3,371.5L222.1,371.5L222.9,371.5L223.6,371.5L224.4,371.5L225.2,371.5L225.9,371.5L226.7,371.5L227.5,371.5L228.2,371.5L229.0,371.5L229.8,371.5L230.5,371.5L231.3,371.5L232.1,371.5L232.8,371.5L233.6,371.5L234.4,371.5L235.1,371.5L235.9,371.5L236.7,371.5L237.4,371.5L238.2,371.5L239.0,371.5L239.7,371.5L240.5,371.5L241.2,371.5L242.0,371.5L242.8,371.5L243.5,371.5L244.3,371.5L245.1,371.5L245.8,371.5L246.6,371.5L247.4,371.5L248.1,371.5L248.9,371.5L249.7,371.5L250.4,371.5L251.2,371.5L252.0,371.5L252.7,371.5L253.5,371.5L254.3,371.5L255.0,371.5L255.8,371.5L256.6,371.5L257.3,371.5L258.1,371.5L258.9,371.5L259.6,371.5L260.4,371.5L261.2,371.5L261.9,371.5L262.7,371.5L263.5,371.5L264.2,371.5L265.0,371.5L265.8,371.5L266.5,371.5L267.3,371.5L268.1,371.5L268.8,371.5L269.6,371.5L270.4,371.5L271.1,371.5L271.9,371.5L272.6,371.5L273.4,371.5L274.2,371.5L274.9,371.5L275.7,371.5L276.5,371.5L277.2,371.5L278.0,371.4L278.8,371.4L279.5,371.4L280.3,371.4L281.1,371.4L281.8,371.4L282.6,371.4L283.4,371.4L284.1,371.4L284.9,371.4L285.7,371.4L286.4,371.3L287.2,371.3L288.0,371.3L288.7,371.3L289.5,371.3L290.3,371.3L291.0,371.2L291.8,371.2L292.6,371.2L293.3,371.1L294.1,371.1L294.9,371.1L295.6,371.0L296.4,371.0L297.2,370.9L297.9,370.9L298.7,370.8L299.5,370.8L300.2,370.7L301.0,370.6L301.8,370.6L302.5,370.5L303.3,370.4L304.0,370.3L304.8,370.2L305.6,370.1L306.3,370.0L307.1,369.8L307.9,369.7L308.6,369.6L309.4,369.4L310.2,369.2L310.9,369.1L311.7,368.9L312.5,368.7L313.2,368.4L314.0,368.2L314.8,368.0L315.5,367.7L316.3,367.4L317.1,367.1L317.8,366.8L318.6,366.5L319.4,366.1L320.1,365.7L320.9,365.3L321.7,364.9L322.4,364.5L323.2,364.0L324.0,363.5L324.7,363.0L325.5,362.4L326.3,361.9L327.0,361.2L327.8,360.6L328.6,359.9L329.3,359.2L330.1,358.5L330.9,357.7L331.6,356.9L332.4,356.0L333.1,355.2L333.9,354.2L334.7,353.3L335.4,352.3L336.2,351.2L337.0,350.1L337.7,349.0L338.5,347.8L339.3,346.6L340.0,345.3L340.8,344.0L341.6,342.7L342.3,341.3L343.1,339.8L343.9,338.3L344.6,336.8L345.4,335.2L346.2,333.6L346.9,331.9L347.7,330.2L348.5,328.4L349.2,326.6L350.0,324.7L350.8,322.9L351.5,320.9L352.3,318.9L353.1,316.9L353.8,314.8L354.6,312.7L355.4,310.6L356.1,308.4L356.9,306.2L357.7,304.0L358.4,301.8L359.2,299.5L360.0,297.2L360.7,294.8L361.5,292.5L362.3,290.1L363.0,287.8L363.8,285.4L364.5,283.0L365.3,280.6L366.1,278.2L366.8,275.8L367.6,273.5L368.4,271.1L369.1,268.7L369.9,266.4L370.7,264.1L371.4,261.8L372.2,259.5L373.0,257.3L373.7,255.1L374.5,252.9L375.3,250.8L376.0,248.7L376.8,246.7L377.6,244.8L378.3,242.9L379.1,241.0L379.9,239.3L380.6,237.6L381.4,235.9L382.2,234.4L382.9,232.9L383.7,231.5L384.5,230.2L385.2,228.9L386.0,227.8L386.8,226.7L387.5,225.8L388.3,224.9L389.1,224.2L389.8,223.5L390.6,222.9L391.4,222.5L392.1,222.1L392.9,221.9L393.6,221.7L394.4,221.7L395.2,221.7L395.9,221.8L396.7,222.1L397.5,222.4L398.2,222.8L399.0,223.3L399.8,223.9L400.5,224.6L401.3,225.4L402.1,226.3L402.8,227.2L403.6,228.2L404.4,229.4L405.1,230.6L405.9,231.8L406.7,233.2L407.4,234.6L408.2,236.1L409.0,237.6L409.7,239.3L410.5,240.9L411.3,242.7L412.0,244.5L412.8,246.3L413.6,248.2L414.3,250.2L415.1,252.2L415.9,254.2L416.6,256.3L417.4,258.4L418.2,260.5L418.9,262.7L419.7,264.9L420.5,267.1L421.2,269.3L422.0,271.6L422.8,273.8L423.5,276.1L424.3,278.3L425.0,280.6L425.8,282.9L426.6,285.2L427.3,287.4L428.1,289.7L428.9,291.9L429.6,294.1L430.4,296.4L431.2,298.6L431.9,300.7L432.7,302.9L433.5,305.0L434.2,307.1L435.0,309.2L435.8,311.3L436.5,313.3L437.3,315.3L438.1,317.2L438.8,319.1L439.6,321.0L440.4,322.9L441.1,324.7L441.9,326.4L442.7,328.1L443.4,329.8L444.2,331.5L445.0,333.1L445.7,334.7L446.5,336.2L447.3,337.7L448.0,339.1L448.8,340.5L449.6,341.8L450.3,343.2L451.1,344.4L451.9,345.7L452.6,346.9L453.4,348.0L454.2,349.1L454.9,350.2L455.7,351.2L456.4,352.2L457.2,353.2L458.0,354.1L458.7,355.0L459.5,355.8L460.3,356.6L461.0,357.4L461.8,358.2L462.6,358.9L463.3,359.6L464.1,360.2L464.9,360.9L465.6,361.5L466.4,362.0L467.2,362.6L467.9,363.1L468.7,363.6L469.5,364.0L470.2,364.5L471.0,364.9L471.8,365.3L472.5,365.7L473.3,366.1L474.1,366.4L474.8,366.7L475.6,367.0L476.4,367.3L477.1,367.6L477.9,367.8L478.7,368.1L479.4,368.3L480.2,368.5L481.0,368.7L481.7,368.9L482.5,369.1L483.3,369.3L484.0,369.4L484.8,369.6L485.6,369.7L486.3,369.8L487.1,370.0L487.8,370.1L488.6,370.2L489.4,370.3L490.1,370.4L490.9,370.5L491.7,370.5L492.4,370.6L493.2,370.7L494.0,370.7L494.7,370.8L495.5,370.9L496.3,370.9L497.0,371.0L497.8,371.0L498.6,371.0L499.3,371.1L500.1,371.1L500.9,371.1L501.6,371.2L502.4,371.2L503.2,371.2L503.9,371.2L504.7,371.3L505.5,371.3L506.2,371.3L507.0,371.3L507.8,371.3L508.5,371.4L509.3,371.4L510.1,371.4L510.8,371.4L511.6,371.4L512.4,371.4L513.1,371.4L513.9,371.4L514.7,371.4L515.4,371.4L516.2,371.4L516.9,371.4L517.7,371.5L518.5,371.5L519.2,371.5L520.0,371.5L520.8,371.5L521.5,371.5L522.3,371.5L523.1,371.5L523.8,371.5L524.6,371.5L525.4,371.5L526.1,371.5L526.9,371.5L527.7,371.5L528.4,371.5L529.2,371.5L530.0,371.5L530.7,371.5L531.5,371.5" fill="none" stroke="#f7a064" stroke-opacity="0.85" stroke-width="1" stroke-dasharray="5 3"/>
<path d="M72.0,371.5L72.8,371.5L73.5,371.5L74.3,371.5L75.1,371.5L75.8,371.5L76.6,371.5L77.4,371.5L78.1,371.5L78.9,371.5L79.7,371.5L80.4,371.5L81.2,371.5L82.0,371.5L82.7,371.5L83.5,371.5L84.3,371.5L85.0,371.5L85.8,371.5L86.6,371.5L87.3,371.5L88.1,371.5L88.8,371.5L89.6,371.5L90.4,371.5L91.1,371.5L91.9,371.5L92.7,371.5L93.4,371.5L94.2,371.5L95.0,371.5L95.7,371.5L96.5,371.5L97.3,371.5L98.0,371.5L98.8,371.5L99.6,371.5L100.3,371.5L101.1,371.5L101.9,371.5L102.6,371.5L103.4,371.5L104.2,371.5L104.9,371.5L105.7,371.5L106.5,371.5L107.2,371.5L108.0,371.5L108.8,371.5L109.5,371.5L110.3,371.5L111.1,371.5L111.8,371.5L112.6,371.5L113.4,371.5L114.1,371.5L114.9,371.5L115.7,371.5L116.4,371.5L117.2,371.5L118.0,371.5L118.7,371.5L119.5,371.5L120.2,371.5L121.0,371.5L121.8,371.5L122.5,371.5L123.3,371.5L124.1,371.5L124.8,371.5L125.6,371.5L126.4,371.5L127.1,371.5L127.9,371.5L128.7,371.5L129.4,371.5L130.2,371.5L131.0,371.5L131.7,371.5L132.5,371.5L133.3,371.5L134.0,371.5L134.8,371.5L135.6,371.5L136.3,371.5L137.1,371.5L137.9,371.5L138.6,371.5L139.4,371.5L140.2,371.5L140.9,371.5L141.7,371.5L142.5,371.5L143.2,371.5L144.0,371.5L144.8,371.5L145.5,371.5L146.3,371.5L147.1,371.5L147.8,371.5L148.6,371.5L149.3,371.5L150.1,371.5L150.9,371.5L151.6,371.5L152.4,371.5L153.2,371.5L153.9,371.5L154.7,371.5L155.5,371.5L156.2,371.5L157.0,371.5L157.8,371.5L158.5,371.5L159.3,371.5L160.1,371.5L160.8,371.5L161.6,371.5L162.4,371.5L163.1,371.5L163.9,371.5L164.7,371.5L165.4,371.5L166.2,371.5L167.0,371.5L167.7,371.5L168.5,371.5L169.3,371.5L170.0,371.5L170.8,371.5L171.6,371.5L172.3,371.5L173.1,371.5L173.9,371.5L174.6,371.5L175.4,371.5L176.2,371.5L176.9,371.5L177.7,371.5L178.5,371.5L179.2,371.5L180.0,371.5L180.7,371.5L181.5,371.5L182.3,371.5L183.0,371.5L183.8,371.5L184.6,371.5L185.3,371.5L186.1,371.5L186.9,371.5L187.6,371.5L188.4,371.5L189.2,371.5L189.9,371.5L190.7,371.5L191.5,371.5L192.2,371.5L193.0,371.5L193.8,371.5L194.5,371.5L195.3,371.5L196.1,371.5L196.8,371.5L197.6,371.5L198.4,371.5L199.1,371.5L199.9,371.5L200.7,371.5L201.4,371.5L202.2,371.5L203.0,371.5L203.7,371.5L204.5,371.5L205.3,371.5L206.0,371.5L206.8,371.5L207.6,371.5L208.3,371.5L209.1,371.5L209.8,371.5L210.6,371.5L211.4,371.5L212.1,371.5L212.9,371.5L213.7,371.5L214.4,371.5L215.2,371.5L216.0,371.5L216.7,371.5L217.5,371.5L218.3,371.5L219.0,371.5L219.8,371.5L220.6,371.5L221.3,371.5L222.1,371.5L222.9,371.5L223.6,371.5L224.4,371.5L225.2,371.5L225.9,371.5L226.7,371.5L227.5,371.5L228.2,371.5L229.0,371.5L229.8,371.5L230.5,371.5L231.3,371.5L232.1,371.5L232.8,371.5L233.6,371.5L234.4,371.5L235.1,371.5L235.9,371.5L236.7,371.5L237.4,371.5L238.2,371.5L239.0,371.5L239.7,371.5L240.5,371.5L241.2,371.5L242.0,371.5L242.8,371.5L243.5,371.5L244.3,371.5L245.1,371.5L245.8,371.5L246.6,371.5L247.4,371.5L248.1,371.5L248.9,371.5L249.7,371.5L250.4,371.5L251.2,371.5L252.0,371.5L252.7,371.5L253.5,371.5L254.3,371.5L255.0,371.5L255.8,371.5L256.6,371.5L257.3,371.5L258.1,371.5L258.9,371.5L259.6,371.5L260.4,371.5L261.2,371.5L261.9,371.5L262.7,371.5L263.5,371.5L264.2,371.5L265.0,371.5L265.8,371.5L266.5,371.5L267.3,371.5L268.1,371.5L268.8,371.5L269.6,371.5L270.4,371.5L271.1,371.5L271.9,371.5L272.6,371.5L273.4,371.5L274.2,371.5L274.9,371.5L275.7,371.5L276.5,371.5L277.2,371.5L278.0,371.5L278.8,371.5L279.5,371.5L280.3,371.5L281.1,371.5L281.8,371.5L282.6,371.5L283.4,371.5L284.1,371.5L284.9,371.5L285.7,371.5L286.4,371.5L287.2,371.5L288.0,371.5L288.7,371.5L289.5,371.5L290.3,371.5L291.0,371.5L291.8,371.5L292.6,371.5L293.3,371.5L294.1,371.5L294.9,371.5L295.6,371.5L296.4,371.5L297.2,371.5L297.9,371.5L298.7,371.5L299.5,371.5L300.2,371.5L301.0,371.5L301.8,371.5L302.5,371.5L303.3,371.5L304.0,371.5L304.8,371.5L305.6,371.5L306.3,371.5L307.1,371.5L307.9,371.5L308.6,371.5L309.4,371.5L310.2,371.5L310.9,371.5L311.7,371.5L312.5,371.5L313.2,371.5L314.0,371.5L314.8,371.5L315.5,371.5L316.3,371.5L317.1,371.5L317.8,371.5L318.6,371.5L319.4,371.5L320.1,371.5L320.9,371.5L321.7,371.5L322.4,371.5L323.2,371.5L324.0,371.5L324.7,371.5L325.5,371.5L326.3,371.5L327.0,371.5L327.8,371.5L328.6,371.5L329.3,371.5L330.1,371.5L330.9,371.5L331.6,371.5L332.4,371.5L333.1,371.5L333.9,371.5L334.7,371.5L335.4,371.5L336.2,371.5L337.0,371.5L337.7,371.5L338.5,371.5L339.3,371.5L340.0,371.5L340.8,371.5L341.6,371.5L342.3,371.5L343.1,371.5L343.9,371.5L344.6,371.5L345.4,371.5L346.2,371.5L346.9,371.5L347.7,371.5L348.5,371.5L349.2,371.5L350.0,371.5L350.8,371.5L351.5,371.5L352.3,371.5L353.1,371.5L353.8,371.5L354.6,371.5L355.4,371.5L356.1,371.5L356.9,371.5L357.7,371.5L358.4,371.5L359.2,371.5L360.0,371.5L360.7,371.5L361.5,371.5L362.3,371.5L363.0,371.5L363.8,371.5L364.5,371.5L365.3,371.5L366.1,371.5L366.8,371.5L367.6,371.5L368.4,371.5L369.1,371.5L369.9,371.5L370.7,371.5L371.4,371.5L372.2,371.5L373.0,371.5L373.7,371.5L374.5,371.5L375.3,371.5L376.0,371.5L376.8,371.5L377.6,371.5L378.3,371.5L379.1,371.5L379.9,371.5L380.6,371.5L381.4,371.5L382.2,371.5L382.9,371.5L383.7,371.5L384.5,371.5L385.2,371.5L386.0,371.5L386.8,371.5L387.5,371.5L388.3,371.5L389.1,371.5L389.8,371.5L390.6,371.5L391.4,371.5L392.1,371.5L392.9,371.5L393.6,371.5L394.4,371.5L395.2,371.5L395.9,371.5L396.7,371.5L397.5,371.5L398.2,371.5L399.0,371.5L399.8,371.5L400.5,371.5L401.3,371.5L402.1,371.4L402.8,371.4L403.6,371.4L404.4,371.4L405.1,371.4L405.9,371.4L406.7,371.4L407.4,371.3L408.2,371.3L409.0,371.3L409.7,371.2L410.5,371.2L411.3,371.1L412.0,371.1L412.8,371.0L413.6,371.0L414.3,370.9L415.1,370.8L415.9,370.7L416.6,370.6L417.4,370.4L418.2,370.3L418.9,370.1L419.7,369.9L420.5,369.7L421.2,369.5L422.0,369.2L422.8,368.9L423.5,368.6L424.3,368.2L425.0,367.8L425.8,367.4L426.6,366.9L427.3,366.4L428.1,365.8L428.9,365.2L429.6,364.5L430.4,363.7L431.2,362.9L431.9,362.0L432.7,361.0L433.5,360.0L434.2,358.9L435.0,357.7L435.8,356.4L436.5,355.0L437.3,353.6L438.1,352.0L438.8,350.4L439.6,348.6L440.4,346.8L441.1,344.8L441.9,342.8L442.7,340.6L443.4,338.4L444.2,336.1L445.0,333.6L445.7,331.1L446.5,328.5L447.3,325.8L448.0,323.0L448.8,320.1L449.6,317.2L450.3,314.2L451.1,311.2L451.9,308.1L452.6,305.0L453.4,301.8L454.2,298.7L454.9,295.6L455.7,292.4L456.4,289.3L457.2,286.2L458.0,283.2L458.7,280.2L459.5,277.3L460.3,274.5L461.0,271.8L461.8,269.2L462.6,266.8L463.3,264.4L464.1,262.3L464.9,260.3L465.6,258.4L466.4,256.8L467.2,255.3L467.9,254.1L468.7,253.0L469.5,252.2L470.2,251.5L471.0,251.1L471.8,251.0L472.5,251.0L473.3,251.3L474.1,251.7L474.8,252.4L475.6,253.2L476.4,254.3L477.1,255.6L477.9,257.0L478.7,258.6L479.4,260.4L480.2,262.4L481.0,264.5L481.7,266.7L482.5,269.1L483.3,271.6L484.0,274.2L484.8,276.9L485.6,279.7L486.3,282.5L487.1,285.4L487.8,288.4L488.6,291.4L489.4,294.4L490.1,297.5L490.9,300.5L491.7,303.6L492.4,306.6L493.2,309.6L494.0,312.5L494.7,315.4L495.5,318.3L496.3,321.1L497.0,323.9L497.8,326.5L498.6,329.1L499.3,331.6L500.1,334.1L500.9,336.4L501.6,338.6L502.4,340.8L503.2,342.9L503.9,344.9L504.7,346.7L505.5,348.5L506.2,350.2L507.0,351.8L507.8,353.3L508.5,354.8L509.3,356.1L510.1,357.4L510.8,358.6L511.6,359.7L512.4,360.7L513.1,361.6L513.9,362.5L514.7,363.3L515.4,364.1L516.2,364.8L516.9,365.4L517.7,366.0L518.5,366.6L519.2,367.1L520.0,367.5L520.8,367.9L521.5,368.3L522.3,368.7L523.1,369.0L523.8,369.2L524.6,369.5L525.4,369.7L526.1,369.9L526.9,370.1L527.7,370.3L528.4,370.4L529.2,370.6L530.0,370.7L530.7,370.8L531.5,370.9L531.5,371.5 L72.0,371.5 Z" fill="#ff1000" fill-opacity="0.5"/>
<path d="M72.0,371.5L72.8,371.5L73.5,371.5L74.3,371.5L75.1,371.5L75.8,371.5L76.6,371.5L77.4,371.5L78.1,371.5L78.9,371.5L79.7,371.5L80.4,371.5L81.2,371.5L82.0,371.5L82.7,371.5L83.5,371.5L84.3,371.5L85.0,371.5L85.8,371.5L86.6,371.5L87.3,371.5L88.1,371.5L88.8,371.5L89.6,371.5L90.4,371.5L91.1,371.5L91.9,371.5L92.7,371.5L93.4,371.5L94.2,371.5L95.0,371.5L95.7,371.5L96.5,371.5L97.3,371.5L98.0,371.5L98.8,371.5L99.6,371.5L100.3,371.5L101.1,371.5L101.9,371.5L102.6,371.5L103.4,371.5L104.2,371.5L104.9,371.5L105.7,371.5L106.5,371.5L107.2,371.5L108.0,371.5L108.8,371.5L109.5,371.5L110.3,371.5L111.1,371.5L111.8,371.5L112.6,371.5L113.4,371.5L114.1,371.5L114.9,371.5L115.7,371.5L116.4,371.5L117.2,371.5L118.0,371.5L118.7,371.5L119.5,371.5L120.2,371.5L121.0,371.5L121.8,371.5L122.5,371.5L123.3,371.5L124.1,371.5L124.8,371.5L125.6,371.5L126.4,371.5L127.1,371.5L127.9,371.5L128.7,371.5L129.4,371.5L130.2,371.5L131.0,371.5L131.7,371.5L132.5,371.5L133.3,371.5L134.0,371.5L134.8,371.5L135.6,371.5L136.3,371.5L137.1,371.5L137.9,371.5L138.6,371.5L139.4,371.5L140.2,371.5L140.9,371.5L141.7,371.5L142.5,371.5L143.2,371.5L144.0,371.5L144.8,371.5L145.5,371.5L146.3,371.5L147.1,371.5L147.8,371.5L148.6,371.5L149.3,371.5L150.1,371.5L150.9,371.5L151.6,371.5L152.4,371.5L153.2,371.5L153.9,371.5L154.7,371.5L155.5,371.5L156.2,371.5L157.0,371.5L157.8,371.5L158.5,371.5L159.3,371.5L160.1,371.5L160.8,371.5L161.6,371.5L162.4,371.5L163.1,371.5L163.9,371.5L164.7,371.5L165.4,371.5L166.2,371.5L167.0,371.5L167.7,371.5L168.5,371.5L169.3,371.5L170.0,371.5L170.8,371.5L171.6,371.5L172.3,371.5L173.1,371.5L173.9,371.5L174.6,371.5L175.4,371.5L176.2,371.5L176.9,371.5L177.7,371.5L178.5,371.5L179.2,371.5L180.0,371.5L180.7,371.5L181.5,371.5L182.3,371.5L183.0,371.5L183.8,371.5L184.6,371.5L185.3,371.5L186.1,371.5L186.9,371.5L187.6,371.5L188.4,371.5L189.2,371.5L189.9,371.5L190.7,371.5L191.5,371.5L192.2,371.5L193.0,371.5L193.8,371.5L194.5,371.5L195.3,371.5L196.1,371.5L196.8,371.5L197.6,371.5L198.4,371.5L199.1,371.5L199.9,371.5L200.7,371.5L201.4,371.5L202.2,371.5L203.0,371.5L203.7,371.5L204.5,371.5L205.3,371.5L206.0,371.5L206.8,371.5L207.6,371.5L208.3,371.5L209.1,371.5L209.8,371.5L210.6,371.5L211.4,371.5L212.1,371.5L212.9,371.5L213.7,371.5L214.4,371.5L215.2,371.5L216.0,371.5L216.7,371.5L217.5,371.5L218.3,371.5L219.0,371.5L219.8,371.5L220.6,371.5L221.3,371.5L222.1,371.5L222.9,371.5L223.6,371.5L224.4,371.5L225.2,371.5L225.9,371.5L226.7,371.5L227.5,371.5L228.2,371.5L229.0,371.5L229.8,371.5L230.5,371.5L231.3,371.5L232.1,371.5L232.8,371.5L233.6,371.5L234.4,371.5L235.1,371.5L235.9,371.5L236.7,371.5L237.4,371.5L238.2,371.5L239.0,371.5L239.7,371.5L240.5,371.5L241.2,371.5L242.0,371.5L242.8,371.5L243.5,371.5L244.3,371.5L245.1,371.5L245.8,371.5L246.6,371.5L247.4,371.5L248.1,371.5L248.9,371.5L249.7,371.5L250.4,371.5L251.2,371.5L252.0,371.5L252.7,371.5L253.5,371.5L254.3,371.5L255.0,371.5L255.8,371.5L256.6,371.5L257.3,371.5L258.1,371.5L258.9,371.5L259.6,371.5L260.4,371.5L261.2,371.5L261.9,371.5L262.7,371.5L263.5,371.5L264.2,371.5L265.0,371.5L265.8,371.5L266.5,371.5L267.3,371.5L268.1,371.5L268.8,371.5L269.6,371.5L270.4,371.5L271.1,371.5L271.9,371.5L272.6,371.5L273.4,371.5L274.2,371.5L274.9,371.5L275.7,371.5L276.5,371.5L277.2,371.5L278.0,371.5L278.8,371.5L279.5,371.5L280.3,371.5L281.1,371.5L281.8,371.5L282.6,371.5L283.4,371.5L284.1,371.5L284.9,371.5L285.7,371.5L286.4,371.5L287.2,371.5L288.0,371.5L288.7,371.5L289.5,371.5L290.3,371.5L291.0,371.5L291.8,371.5L292.6,371.5L293.3,371.5L294.1,371.5L294.9,371.5L295.6,371.5L296.4,371.5L297.2,371.5L297.9,371.5L298.7,371.5L299.5,371.5L300.2,371.5L301.0,371.5L301.8,371.5L302.5,371.5L303.3,371.5L304.0,371.5L304.8,371.5L305.6,371.5L306.3,371.5L307.1,371.5L307.9,371.5L308.6,371.5L309.4,371.5L310.2,371.5L310.9,371.5L311.7,371.5L312.5,371.5L313.2,371.5L314.0,371.5L314.8,371.5L315.5,371.5L316.3,371.5L317.1,371.5L317.8,371.5L318.6,371.5L319.4,371.5L320.1,371.5L320.9,371.5L321.7,371.5L322.4,371.5L323.2,371.5L324.0,371.5L324.7,371.5L325.5,371.5L326.3,371.5L327.0,371.5L327.8,371.5L328.6,371.5L329.3,371.5L330.1,371.5L330.9,371.5L331.6,371.5L332.4,371.5L333.1,371.5L333.9,371.5L334.7,371.5L335.4,371.5L336.2,371.5L337.0,371.5L337.7,371.5L338.5,371.5L339.3,371.5L340.0,371.5L340.8,371.5L341.6,371.5L342.3,371.5L343.1,371.5L343.9,371.5L344.6,371.5L345.4,371.5L346.2,371.5L346.9,371.5L347.7,371.5L348.5,371.5L349.2,371.5L350.0,371.5L350.8,371.5L351.5,371.5L352.3,371.5L353.1,371.5L353.8,371.5L354.6,371.5L355.4,371.5L356.1,371.5L356.9,371.5L357.7,371.5L358.4,371.5L359.2,371.5L360.0,371.5L360.7,371.5L361.5,371.5L362.3,371.5L363.0,371.5L363.8,371.5L364.5,371.5L365.3,371.5L366.1,371.5L366.8,371.5L367.6,371.5L368.4,371.5L369.1,371.5L369.9,371.5L370.7,371.5L371.4,371.5L372.2,371.5L373.0,371.5L373.7,371.5L374.5,371.5L375.3,371.5L376.0,371.5L376.8,371.5L377.6,371.5L378.3,371.5L379.1,371.5L379.9,371.5L380.6,371.5L381.4,371.5L382.2,371.5L382.9,371.5L383.7,371.5L384.5,371.5L385.2,371.5L386.0,371.5L386.8,371.5L387.5,371.5L388.3,371.5L389.1,371.5L389.8,371.5L390.6,371.5L391.4,371.5L392.1,371.5L392.9,371.5L393.6,371.5L394.4,371.5L395.2,371.5L395.9,371.5L396.7,371.5L397.5,371.5L398.2,371.5L399.0,371.5L399.8,371.5L400.5,371.5L401.3,371.5L402.1,371.4L402.8,371.4L403.6,371.4L404.4,371.4L405.1,371.4L405.9,371.4L406.7,371.4L407.4,371.3L408.2,371.3L409.0,371.3L409.7,371.2L410.5,371.2L411.3,371.1L412.0,371.1L412.8,371.0L413.6,371.0L414.3,370.9L415.1,370.8L415.9,370.7L416.6,370.6L417.4,370.4L418.2,370.3L418.9,370.1L419.7,369.9L420.5,369.7L421.2,369.5L422.0,369.2L422.8,368.9L423.5,368.6L424.3,368.2L425.0,367.8L425.8,367.4L426.6,366.9L427.3,366.4L428.1,365.8L428.9,365.2L429.6,364.5L430.4,363.7L431.2,362.9L431.9,362.0L432.7,361.0L433.5,360.0L434.2,358.9L435.0,357.7L435.8,356.4L436.5,355.0L437.3,353.6L438.1,352.0L438.8,350.4L439.6,348.6L440.4,346.8L441.1,344.8L441.9,342.8L442.7,340.6L443.4,338.4L444.2,336.1L445.0,333.6L445.7,331.1L446.5,328.5L447.3,325.8L448.0,323.0L448.8,320.1L449.6,317.2L450.3,314.2L451.1,311.2L451.9,308.1L452.6,305.0L453.4,301.8L454.2,298.7L454.9,295.6L455.7,292.4L456.4,289.3L457.2,286.2L458.0,283.2L458.7,280.2L459.5,277.3L460.3,274.5L461.0,271.8L461.8,269.2L462.6,266.8L463.3,264.4L464.1,262.3L464.9,260.3L465.6,258.4L466.4,256.8L467.2,255.3L467.9,254.1L468.7,253.0L469.5,252.2L470.2,251.5L471.0,251.1L471.8,251.0L472.5,251.0L473.3,251.3L474.1,251.7L474.8,252.4L475.6,253.2L476.4,254.3L477.1,255.6L477.9,257.0L478.7,258.6L479.4,260.4L480.2,262.4L481.0,264.5L481.7,266.7L482.5,269.1L483.3,271.6L484.0,274.2L484.8,276.9L485.6,279.7L486.3,282.5L487.1,285.4L487.8,288.4L488.6,291.4L489.4,294.4L490.1,297.5L490.9,300.5L491.7,303.6L492.4,306.6L493.2,309.6L494.0,312.5L494.7,315.4L495.5,318.3L496.3,321.1L497.0,323.9L497.8,326.5L498.6,329.1L499.3,331.6L500.1,334.1L500.9,336.4L501.6,338.6L502.4,340.8L503.2,342.9L503.9,344.9L504.7,346.7L505.5,348.5L506.2,350.2L507.0,351.8L507.8,353.3L508.5,354.8L509.3,356.1L510.1,357.4L510.8,358.6L511.6,359.7L512.4,360.7L513.1,361.6L513.9,362.5L514.7,363.3L515.4,364.1L516.2,364.8L516.9,365.4L517.7,366.0L518.5,366.6L519.2,367.1L520.0,367.5L520.8,367.9L521.5,368.3L522.3,368.7L523.1,369.0L523.8,369.2L524.6,369.5L525.4,369.7L526.1,369.9L526.9,370.1L527.7,370.3L528.4,370.4L529.2,370.6L530.0,370.7L530.7,370.8L531.5,370.9" fill="none" stroke="#f23030" stroke-opacity="0.85" stroke-width="1" stroke-dasharray="5 3"/>
<path d="M322.0,371.5L322.4,371.5L322.8,371.5L323.3,371.4L323.7,371.4L324.1,371.4L324.5,371.4L324.9,371.3L325.4,371.3L325.8,371.3L326.2,371.3L326.6,371.2L327.0,371.2L327.5,371.2L327.9,371.1L328.3,371.1L328.7,371.1L329.1,371.0L329.6,371.0L330.0,371.0L330.4,370.9L330.8,370.9L331.2,370.8L331.7,370.8L332.1,370.7L332.5,370.7L332.9,370.6L333.3,370.6L333.8,370.5L334.2,370.5L334.6,370.4L335.0,370.3L335.4,370.3L335.9,370.2L336.3,370.1L336.7,370.1L337.1,370.0L337.5,369.9L338.0,369.8L338.4,369.7L338.8,369.6L339.2,369.6L339.6,369.5L340.1,369.4L340.5,369.3L340.9,369.2L341.3,369.1L341.7,369.0L342.2,368.9L342.6,368.8L343.0,368.7L343.4,368.6L343.8,368.5L344.3,368.4L344.7,368.3L345.1,368.2L345.5,368.1L345.9,368.0L346.4,367.9L346.8,367.8L347.2,367.7L347.6,367.6L348.0,367.5L348.4,367.5L348.9,367.4L349.3,367.3L349.7,367.2L350.1,367.1L350.5,367.0L351.0,366.9L351.4,366.8L351.8,366.7L352.2,366.6L352.6,366.5L353.1,366.4L353.5,366.4L353.9,366.3L354.3,366.2L354.7,366.1L355.2,366.0L355.6,365.9L356.0,365.8L356.4,365.7L356.8,365.6L357.3,365.5L357.7,365.4L358.1,365.3L358.5,365.2L358.9,365.1L359.4,365.0L359.8,364.9L360.2,364.8L360.6,364.7L361.0,364.6L361.5,364.5L361.9,364.4L362.3,364.3L362.7,364.2L363.1,364.1L363.6,364.0L364.0,363.9L364.4,363.8L364.8,363.7L365.2,363.6L365.7,363.4L366.1,363.3L366.5,363.2L366.9,363.1L367.3,363.0L367.8,362.9L368.2,362.8L368.6,362.7L369.0,362.6L369.4,362.5L369.9,362.4L370.3,362.3L370.7,362.2L371.1,362.1L371.5,362.0L372.0,361.9L372.4,361.7L372.8,361.6L373.2,361.5L373.6,361.4L374.1,361.3L374.5,361.2L374.9,361.1L375.3,361.0L375.7,360.9L376.2,360.9L376.6,360.8L377.0,360.7L377.4,360.6L377.8,360.5L378.3,360.4L378.7,360.3L379.1,360.2L379.5,360.1L379.9,360.0L380.4,360.0L380.8,359.9L381.2,359.8L381.6,359.7L382.0,359.6L382.5,359.5L382.9,359.5L383.3,359.4L383.7,359.3L384.1,359.2L384.6,359.1L385.0,359.0L385.4,359.0L385.8,358.9L386.2,358.8L386.7,358.7L387.1,358.6L387.5,358.6L387.9,358.5L388.3,358.4L388.8,358.3L389.2,358.2L389.6,358.1L390.0,358.0L390.4,358.0L390.9,357.9L391.3,357.8L391.7,357.7L392.1,357.6L392.5,357.5L393.0,357.4L393.4,357.3L393.8,357.2L394.2,357.1L394.6,357.0L395.1,356.9L395.5,356.8L395.9,356.7L396.3,356.6L396.7,356.5L397.2,356.4L397.6,356.3L398.0,356.1L398.4,356.0L398.8,355.9L399.3,355.8L399.7,355.7L400.1,355.5L400.5,355.4L400.9,355.3L401.3,355.1L401.8,355.0L402.2,354.9L402.6,354.7L403.0,354.6L403.4,354.4L403.9,354.3L404.3,354.1L404.7,354.0L405.1,353.8L405.5,353.6L406.0,353.5L406.4,353.3L406.8,353.1L407.2,352.9L407.6,352.8L408.1,352.6L408.5,352.4L408.9,352.2L409.3,352.0L409.7,351.8L410.2,351.6L410.6,351.4L411.0,351.2L411.4,351.0L411.8,350.8L412.3,350.5L412.7,350.3L413.1,350.1L413.5,349.9L413.9,349.6L414.4,349.4L414.8,349.1L415.2,348.9L415.6,348.6L416.0,348.4L416.5,348.1L416.9,347.9L417.3,347.6L417.7,347.3L418.1,347.0L418.6,346.7L419.0,346.5L419.4,346.2L419.8,345.9L420.2,345.6L420.7,345.2L421.1,344.9L421.5,344.6L421.9,344.3L422.3,344.0L422.8,343.6L423.2,343.3L423.6,343.0L424.0,342.6L424.4,342.3L424.9,341.9L425.3,341.6L425.7,341.2L426.1,340.9L426.5,340.5L427.0,340.1L427.4,339.8L427.8,339.4L428.2,339.0L428.6,338.6L429.1,338.2L429.5,337.8L429.9,337.5L430.3,337.1L430.7,336.7L431.2,336.3L431.6,335.9L432.0,335.5L432.4,335.0L432.8,334.6L433.3,334.2L433.7,333.8L434.1,333.4L434.5,333.0L434.9,332.6L435.4,332.2L435.8,331.8L436.2,331.3L436.6,330.9L437.0,330.5L437.5,330.1L437.9,329.7L438.3,329.3L438.7,328.9L439.1,328.5L439.6,328.1L440.0,327.7L440.4,327.3L440.8,326.9L441.2,326.6L441.7,326.2L442.1,325.8L442.5,325.5L442.9,325.1L443.3,324.7L443.8,324.4L444.2,324.1L444.6,323.7L445.0,323.4L445.4,323.1L445.9,322.8L446.3,322.5L446.7,322.2L447.1,321.9L447.5,321.6L448.0,321.3L448.4,321.1L448.8,320.8L449.2,320.6L449.6,320.3L450.1,320.1L450.5,319.9L450.9,319.7L451.3,319.6L451.7,319.4L452.2,319.2L452.6,319.1L453.0,319.0L453.4,318.8L453.8,318.7L454.2,318.6L454.7,318.6L455.1,318.5L455.5,318.4L455.9,318.4L456.3,318.3L456.8,318.3L457.2,318.3L457.6,318.3L458.0,318.3L458.4,318.3L458.9,318.3L459.3,318.3L459.7,318.4L460.1,318.4L460.5,318.5L461.0,318.5L461.4,318.6L461.8,318.7L462.2,318.8L462.6,318.9L463.1,319.1L463.5,319.2L463.9,319.4L464.3,319.6L464.7,319.8L465.2,320.0L465.6,320.2L466.0,320.5L466.4,320.8L466.8,321.1L467.3,321.4L467.7,321.7L468.1,322.1L468.5,322.4L468.9,322.8L469.4,323.2L469.8,323.6L470.2,324.0L470.6,324.4L471.0,324.8L471.5,325.3L471.9,325.8L472.3,326.2L472.7,326.7L473.1,327.2L473.6,327.7L474.0,328.2L474.4,328.7L474.8,329.2L475.2,329.7L475.7,330.2L476.1,330.8L476.5,331.3L476.9,331.8L477.3,332.4L477.8,332.9L478.2,333.5L478.6,334.0L479.0,334.5L479.4,335.1L479.9,335.6L480.3,336.2L480.7,336.7L481.1,337.3L481.5,337.9L482.0,338.4L482.4,339.0L482.8,339.5L483.2,340.1L483.6,340.6L484.1,341.2L484.5,341.7L484.9,342.3L485.3,342.8L485.7,343.4L486.2,343.9L486.6,344.5L487.0,345.0L487.4,345.6L487.8,346.1L488.3,346.6L488.7,347.2L489.1,347.7L489.5,348.2L489.9,348.7L490.4,349.3L490.8,349.8L491.2,350.3L491.6,350.8L492.0,351.3L492.5,351.8L492.9,352.3L493.3,352.8L493.7,353.3L494.1,353.7L494.6,354.2L495.0,354.7L495.4,355.1L495.8,355.6L496.2,356.0L496.7,356.5L497.1,356.9L497.5,357.4L497.9,357.8L498.3,358.2L498.8,358.6L499.2,359.0L499.6,359.4L500.0,359.8L500.4,360.1L500.9,360.5L501.3,360.9L501.7,361.2L502.1,361.5L502.5,361.9L503.0,362.2L503.4,362.5L503.8,362.8L504.2,363.1L504.6,363.4L505.1,363.7L505.5,364.0L505.9,364.3L506.3,364.6L506.7,364.8L507.1,365.1L507.6,365.3L508.0,365.6L508.4,365.8L508.8,366.0L509.2,366.2L509.7,366.5L510.1,366.7L510.5,366.9L510.9,367.1L511.3,367.2L511.8,367.4L512.2,367.6L512.6,367.8L513.0,367.9L513.4,368.1L513.9,368.2L514.3,368.4L514.7,368.5L515.1,368.7L515.5,368.8L516.0,368.9L516.4,369.0L516.8,369.2L517.2,369.3L517.6,369.4L518.1,369.5L518.5,369.6L518.9,369.7L519.3,369.8L519.7,369.9L520.2,369.9L520.6,370.0L521.0,370.1L521.4,370.2L521.8,370.2L522.3,370.3L522.7,370.4L523.1,370.4L523.5,370.5L523.9,370.5L524.4,370.6L524.8,370.6L525.2,370.7L525.6,370.7L526.0,370.8L526.5,370.8L526.9,370.8L527.3,370.9L527.7,370.9L528.1,370.9L528.6,371.0L529.0,371.0L529.4,371.0L529.8,371.1L530.2,371.1L530.7,371.1L531.1,371.2L531.5,371.2" fill="none" stroke="#000080" stroke-width="2"/>
<path d="M360.0,371.6L360.3,371.6L360.6,371.6L360.8,371.5L361.1,371.5L361.4,371.5L361.7,371.5L361.9,371.5L362.2,371.5L362.5,371.4L362.8,371.4L363.0,371.4L363.3,371.4L363.6,371.4L363.9,371.4L364.1,371.3L364.4,371.3L364.7,371.3L365.0,371.3L365.3,371.3L365.5,371.2L365.8,371.2L366.1,371.2L366.4,371.2L366.6,371.2L366.9,371.2L367.2,371.1L367.5,371.1L367.7,371.1L368.0,371.1L368.3,371.1L368.6,371.0L368.8,371.0L369.1,371.0L369.4,371.0L369.7,370.9L370.0,370.9L370.2,370.9L370.5,370.9L370.8,370.9L371.1,370.8L371.3,370.8L371.6,370.8L371.9,370.8L372.2,370.7L372.4,370.7L372.7,370.7L373.0,370.7L373.3,370.6L373.6,370.6L373.8,370.6L374.1,370.6L374.4,370.5L374.7,370.5L374.9,370.5L375.2,370.5L375.5,370.4L375.8,370.4L376.0,370.4L376.3,370.4L376.6,370.3L376.9,370.3L377.1,370.3L377.4,370.3L377.7,370.2L378.0,370.2L378.3,370.2L378.5,370.1L378.8,370.1L379.1,370.1L379.4,370.1L379.6,370.0L379.9,370.0L380.2,370.0L380.5,370.0L380.7,369.9L381.0,369.9L381.3,369.9L381.6,369.8L381.8,369.8L382.1,369.8L382.4,369.8L382.7,369.7L383.0,369.7L383.2,369.7L383.5,369.6L383.8,369.6L384.1,369.6L384.3,369.6L384.6,369.5L384.9,369.5L385.2,369.5L385.4,369.5L385.7,369.4L386.0,369.4L386.3,369.4L386.5,369.3L386.8,369.3L387.1,369.3L387.4,369.3L387.7,369.2L387.9,369.2L388.2,369.2L388.5,369.1L388.8,369.1L389.0,369.1L389.3,369.1L389.6,369.0L389.9,369.0L390.1,369.0L390.4,368.9L390.7,368.9L391.0,368.9L391.3,368.9L391.5,368.8L391.8,368.8L392.1,368.8L392.4,368.8L392.6,368.7L392.9,368.7L393.2,368.7L393.5,368.6L393.7,368.6L394.0,368.6L394.3,368.6L394.6,368.5L394.8,368.5L395.1,368.5L395.4,368.5L395.7,368.4L396.0,368.4L396.2,368.4L396.5,368.4L396.8,368.3L397.1,368.3L397.3,368.3L397.6,368.2L397.9,368.2L398.2,368.2L398.4,368.2L398.7,368.1L399.0,368.1L399.3,368.1L399.5,368.1L399.8,368.0L400.1,368.0L400.4,368.0L400.7,368.0L400.9,367.9L401.2,367.9L401.5,367.9L401.8,367.9L402.0,367.8L402.3,367.8L402.6,367.8L402.9,367.8L403.1,367.7L403.4,367.7L403.7,367.7L404.0,367.7L404.2,367.6L404.5,367.6L404.8,367.6L405.1,367.6L405.4,367.5L405.6,367.5L405.9,367.5L406.2,367.4L406.5,367.4L406.7,367.4L407.0,367.4L407.3,367.3L407.6,367.3L407.8,367.3L408.1,367.3L408.4,367.2L408.7,367.2L408.9,367.2L409.2,367.1L409.5,367.1L409.8,367.1L410.1,367.1L410.3,367.0L410.6,367.0L410.9,367.0L411.2,366.9L411.4,366.9L411.7,366.9L412.0,366.9L412.3,366.8L412.5,366.8L412.8,366.8L413.1,366.7L413.4,366.7L413.7,366.7L413.9,366.6L414.2,366.6L414.5,366.6L414.8,366.5L415.0,366.5L415.3,366.5L415.6,366.4L415.9,366.4L416.1,366.4L416.4,366.3L416.7,366.3L417.0,366.3L417.2,366.2L417.5,366.2L417.8,366.1L418.1,366.1L418.4,366.1L418.6,366.0L418.9,366.0L419.2,366.0L419.5,365.9L419.7,365.9L420.0,365.8L420.3,365.8L420.6,365.8L420.8,365.7L421.1,365.7L421.4,365.7L421.7,365.6L421.9,365.6L422.2,365.5L422.5,365.5L422.8,365.5L423.1,365.4L423.3,365.4L423.6,365.3L423.9,365.3L424.2,365.3L424.4,365.2L424.7,365.2L425.0,365.1L425.3,365.1L425.5,365.1L425.8,365.0L426.1,365.0L426.4,365.0L426.6,364.9L426.9,364.9L427.2,364.8L427.5,364.8L427.8,364.8L428.0,364.7L428.3,364.7L428.6,364.6L428.9,364.6L429.1,364.6L429.4,364.5L429.7,364.5L430.0,364.5L430.2,364.4L430.5,364.4L430.8,364.4L431.1,364.3L431.4,364.3L431.6,364.2L431.9,364.2L432.2,364.2L432.5,364.1L432.7,364.1L433.0,364.1L433.3,364.0L433.6,364.0L433.8,364.0L434.1,363.9L434.4,363.9L434.7,363.9L434.9,363.8L435.2,363.8L435.5,363.8L435.8,363.8L436.1,363.7L436.3,363.7L436.6,363.7L436.9,363.6L437.2,363.6L437.4,363.6L437.7,363.5L438.0,363.5L438.3,363.5L438.5,363.5L438.8,363.4L439.1,363.4L439.4,363.4L439.6,363.4L439.9,363.3L440.2,363.3L440.5,363.3L440.8,363.3L441.0,363.2L441.3,363.2L441.6,363.2L441.9,363.2L442.1,363.1L442.4,363.1L442.7,363.1L443.0,363.1L443.2,363.1L443.5,363.0L443.8,363.0L444.1,363.0L444.3,363.0L444.6,363.0L444.9,362.9L445.2,362.9L445.5,362.9L445.7,362.9L446.0,362.9L446.3,362.9L446.6,362.8L446.8,362.8L447.1,362.8L447.4,362.8L447.7,362.8L447.9,362.8L448.2,362.8L448.5,362.8L448.8,362.7L449.1,362.7L449.3,362.7L449.6,362.7L449.9,362.7L450.2,362.7L450.4,362.7L450.7,362.7L451.0,362.7L451.3,362.7L451.5,362.7L451.8,362.7L452.1,362.7L452.4,362.7L452.6,362.7L452.9,362.7L453.2,362.7L453.5,362.7L453.8,362.7L454.0,362.7L454.3,362.8L454.6,362.8L454.9,362.8L455.1,362.8L455.4,362.8L455.7,362.8L456.0,362.8L456.2,362.9L456.5,362.9L456.8,362.9L457.1,362.9L457.3,362.9L457.6,363.0L457.9,363.0L458.2,363.0L458.5,363.0L458.7,363.1L459.0,363.1L459.3,363.1L459.6,363.1L459.8,363.2L460.1,363.2L460.4,363.2L460.7,363.3L460.9,363.3L461.2,363.4L461.5,363.4L461.8,363.4L462.0,363.5L462.3,363.5L462.6,363.6L462.9,363.6L463.2,363.6L463.4,363.7L463.7,363.7L464.0,363.8L464.3,363.8L464.5,363.9L464.8,363.9L465.1,364.0L465.4,364.0L465.6,364.1L465.9,364.1L466.2,364.2L466.5,364.3L466.7,364.3L467.0,364.4L467.3,364.4L467.6,364.5L467.9,364.6L468.1,364.6L468.4,364.7L468.7,364.8L469.0,364.8L469.2,364.9L469.5,365.0L469.8,365.1L470.1,365.1L470.3,365.2L470.6,365.3L470.9,365.4L471.2,365.4L471.5,365.5L471.7,365.6L472.0,365.7L472.3,365.7L472.6,365.8L472.8,365.9L473.1,366.0L473.4,366.1L473.7,366.2L473.9,366.2L474.2,366.3L474.5,366.4L474.8,366.5L475.0,366.6L475.3,366.7L475.6,366.8L475.9,366.8L476.2,366.9L476.4,367.0L476.7,367.1L477.0,367.2L477.3,367.3L477.5,367.4L477.8,367.4L478.1,367.5L478.4,367.6L478.6,367.7L478.9,367.8L479.2,367.9L479.5,368.0L479.7,368.0L480.0,368.1L480.3,368.2L480.6,368.3L480.9,368.4L481.1,368.5L481.4,368.5L481.7,368.6L482.0,368.7L482.2,368.8L482.5,368.9L482.8,368.9L483.1,369.0L483.3,369.1L483.6,369.2L483.9,369.2L484.2,369.3L484.4,369.4L484.7,369.5L485.0,369.5L485.3,369.6L485.6,369.7L485.8,369.7L486.1,369.8L486.4,369.9L486.7,369.9L486.9,370.0L487.2,370.1L487.5,370.1L487.8,370.2L488.0,370.2L488.3,370.3L488.6,370.3L488.9,370.4L489.2,370.4L489.4,370.5L489.7,370.5L490.0,370.6L490.3,370.6L490.5,370.7L490.8,370.7L491.1,370.8L491.4,370.8L491.6,370.9L491.9,370.9L492.2,370.9L492.5,371.0L492.7,371.0L493.0,371.0L493.3,371.1L493.6,371.1L493.9,371.1L494.1,371.1L494.4,371.2L494.7,371.2L495.0,371.2L495.2,371.3L495.5,371.3L495.8,371.3L496.1,371.3L496.3,371.4L496.6,371.4L496.9,371.4L497.2,371.4L497.4,371.5L497.7,371.5L498.0,371.5" fill="none" stroke="#0a7a0a" stroke-width="2"/>
<path d="M72.0,371.7L72.7,371.7L73.3,371.7L74.0,371.7L74.6,371.7L75.3,371.7L75.9,371.7L76.6,371.7L77.3,371.7L77.9,371.7L78.6,371.7L79.2,371.6L79.9,371.6L80.5,371.6L81.2,371.6L81.9,371.6L82.5,371.6L83.2,371.6L83.8,371.6L84.5,371.6L85.1,371.6L85.8,371.6L86.5,371.6L87.1,371.6L87.8,371.6L88.4,371.6L89.1,371.6L89.7,371.6L90.4,371.6L91.1,371.6L91.7,371.6L92.4,371.6L93.0,371.6L93.7,371.6L94.4,371.6L95.0,371.6L95.7,371.6L96.3,371.6L97.0,371.6L97.6,371.6L98.3,371.6L99.0,371.6L99.6,371.6L100.3,371.5L100.9,371.5L101.6,371.5L102.2,371.5L102.9,371.5L103.6,371.5L104.2,371.5L104.9,371.5L105.5,371.5L106.2,371.5L106.8,371.5L107.5,371.5L108.2,371.5L108.8,371.5L109.5,371.5L110.1,371.6L110.8,371.6L111.4,371.6L112.1,371.6L112.8,371.6L113.4,371.6L114.1,371.6L114.7,371.6L115.4,371.6L116.0,371.6L116.7,371.6L117.4,371.6L118.0,371.6L118.7,371.6L119.3,371.6L120.0,371.6L120.6,371.6L121.3,371.6L122.0,371.6L122.6,371.6L123.3,371.6L123.9,371.6L124.6,371.6L125.2,371.6L125.9,371.6L126.6,371.6L127.2,371.6L127.9,371.6L128.5,371.6L129.2,371.6L129.8,371.6L130.5,371.6L131.2,371.6L131.8,371.6L132.5,371.5L133.1,371.5L133.8,371.5L134.4,371.4L135.1,371.4L135.8,371.4L136.4,371.3L137.1,371.3L137.7,371.2L138.4,371.2L139.1,371.1L139.7,371.0L140.4,371.0L141.0,370.9L141.7,370.8L142.3,370.7L143.0,370.6L143.7,370.5L144.3,370.4L145.0,370.3L145.6,370.2L146.3,370.1L146.9,370.1L147.6,370.0L148.3,369.9L148.9,369.8L149.6,369.7L150.2,369.6L150.9,369.5L151.5,369.4L152.2,369.3L152.9,369.2L153.5,369.1L154.2,369.0L154.8,368.9L155.5,368.8L156.1,368.7L156.8,368.6L157.5,368.5L158.1,368.4L158.8,368.2L159.4,368.1L160.1,367.9L160.7,367.8L161.4,367.6L162.1,367.4L162.7,367.2L163.4,367.0L164.0,366.8L164.7,366.6L165.3,366.4L166.0,366.2L166.7,365.9L167.3,365.7L168.0,365.4L168.6,365.2L169.3,364.9L169.9,364.6L170.6,364.3L171.3,364.1L171.9,363.8L172.6,363.5L173.2,363.2L173.9,362.8L174.5,362.5L175.2,362.2L175.9,361.9L176.5,361.5L177.2,361.2L177.8,360.9L178.5,360.5L179.2,360.2L179.8,359.8L180.5,359.4L181.1,359.1L181.8,358.7L182.4,358.3L183.1,357.9L183.8,357.5L184.4,357.1L185.1,356.7L185.7,356.2L186.4,355.8L187.0,355.4L187.7,354.9L188.4,354.4L189.0,353.9L189.7,353.5L190.3,353.0L191.0,352.4L191.6,351.9L192.3,351.4L193.0,350.8L193.6,350.2L194.3,349.7L194.9,349.1L195.6,348.5L196.2,347.9L196.9,347.3L197.6,346.7L198.2,346.1L198.9,345.5L199.5,344.8L200.2,344.2L200.8,343.6L201.5,342.9L202.2,342.3L202.8,341.7L203.5,341.0L204.1,340.4L204.8,339.8L205.4,339.2L206.1,338.5L206.8,337.9L207.4,337.3L208.1,336.7L208.7,336.1L209.4,335.5L210.0,334.9L210.7,334.3L211.4,333.7L212.0,333.1L212.7,332.5L213.3,331.9L214.0,331.3L214.6,330.8L215.3,330.2L216.0,329.7L216.6,329.1L217.3,328.6L217.9,328.0L218.6,327.5L219.3,327.0L219.9,326.5L220.6,326.0L221.2,325.5L221.9,325.0L222.5,324.5L223.2,324.0L223.9,323.6L224.5,323.1L225.2,322.6L225.8,322.2L226.5,321.8L227.1,321.4L227.8,320.9L228.5,320.5L229.1,320.1L229.8,319.8L230.4,319.4L231.1,319.0L231.7,318.7L232.4,318.3L233.1,318.0L233.7,317.7L234.4,317.4L235.0,317.1L235.7,316.8L236.3,316.5L237.0,316.2L237.7,316.0L238.3,315.7L239.0,315.5L239.6,315.2L240.3,315.0L240.9,314.8L241.6,314.6L242.3,314.4L242.9,314.2L243.6,314.0L244.2,313.8L244.9,313.6L245.5,313.4L246.2,313.2L246.9,313.0L247.5,312.8L248.2,312.7L248.8,312.5L249.5,312.3L250.1,312.1L250.8,312.0L251.5,311.8L252.1,311.6L252.8,311.4L253.4,311.2L254.1,311.0L254.7,310.8L255.4,310.6L256.1,310.4L256.7,310.2L257.4,309.9L258.0,309.7L258.7,309.4L259.3,309.2L260.0,308.9L260.7,308.6L261.3,308.3L262.0,308.0L262.6,307.6L263.3,307.3L264.0,306.9L264.6,306.5L265.3,306.1L265.9,305.6L266.6,305.1L267.2,304.6L267.9,304.0L268.6,303.4L269.2,302.7L269.9,302.0L270.5,301.3L271.2,300.5L271.8,299.6L272.5,298.7L273.2,297.7L273.8,296.7L274.5,295.6L275.1,294.4L275.8,293.1L276.4,291.8L277.1,290.4L277.8,288.8L278.4,287.2L279.1,285.5L279.7,283.7L280.4,281.8L281.0,279.8L281.7,277.6L282.4,275.4L283.0,273.0L283.7,270.5L284.3,267.9L285.0,265.1L285.6,262.3L286.3,259.4L287.0,256.4L287.6,253.3L288.3,250.1L288.9,246.9L289.6,243.5L290.2,240.0L290.9,236.4L291.6,232.7L292.2,228.7L292.9,224.6L293.5,220.3L294.2,215.9L294.8,211.4L295.5,206.8L296.2,202.3L296.8,197.9L297.5,193.5L298.1,189.3L298.8,185.2L299.4,181.2L300.1,177.2L300.8,173.3L301.4,169.5L302.1,165.8L302.7,162.0L303.4,158.3L304.1,154.6L304.7,151.0L305.4,147.3L306.0,143.6L306.7,139.9L307.3,136.2L308.0,132.6L308.7,128.9L309.3,125.2L310.0,121.6L310.6,117.9L311.3,114.3L311.9,110.6L312.6,107.0L313.3,103.4L313.9,99.8L314.6,96.3L315.2,92.8L315.9,89.3L316.5,85.9L317.2,82.6L317.9,79.4L318.5,76.2L319.2,73.2L319.8,70.3L320.5,67.4L321.1,64.7L321.8,62.2L322.5,59.7L323.1,57.4L323.8,55.2L324.4,53.2L325.1,51.3L325.7,49.6L326.4,48.0L327.1,46.6L327.7,45.3L328.4,44.1L329.0,43.1L329.7,42.2L330.3,41.4L331.0,40.8L331.7,40.3L332.3,40.0L333.0,39.8L333.6,39.7L334.3,39.8L334.9,39.9L335.6,40.2L336.3,40.7L336.9,41.2L337.6,41.8L338.2,42.4L338.9,43.2L339.5,44.1L340.2,45.1L340.9,46.3L341.5,47.7L342.2,49.1L342.8,50.7L343.5,52.5L344.2,54.3L344.8,56.3L345.5,58.3L346.1,60.4L346.8,62.6L347.4,64.9L348.1,67.2L348.8,69.5L349.4,71.9L350.1,74.4L350.7,76.8L351.4,79.3L352.0,81.8L352.7,84.3L353.4,86.8L354.0,89.3L354.7,91.8L355.3,94.3L356.0,96.8L356.6,99.3L357.3,101.8L358.0,104.2L358.6,106.7L359.3,109.1L359.9,111.5L360.6,113.8L361.2,116.1L361.9,118.4L362.6,120.7L363.2,122.9L363.9,125.2L364.5,127.5L365.2,129.8L365.8,132.2L366.5,134.5L367.2,136.9L367.8,139.1L368.5,141.1L369.1,143.0L369.8,144.8L370.4,146.5L371.1,148.0L371.8,149.6L372.4,151.1L373.1,152.7L373.7,154.3L374.4,155.9L375.0,157.6L375.7,159.3L376.4,161.0L377.0,162.7L377.7,164.4L378.3,166.1L379.0,167.7L379.6,169.3L380.3,170.8L381.0,172.3L381.6,173.8L382.3,175.2L382.9,176.6L383.6,178.0L384.2,179.3L384.9,180.5L385.6,181.8L386.2,183.0L386.9,184.2L387.5,185.3L388.2,186.4L388.9,187.5L389.5,188.6L390.2,189.7L390.8,190.8L391.5,191.8L392.1,192.9L392.8,194.0L393.5,195.1L394.1,196.3L394.8,197.4L395.4,198.7L396.1,199.9L396.7,201.2L397.4,202.5L398.1,203.8L398.7,205.2L399.4,206.6L400.0,208.0L400.7,209.5L401.3,211.0L402.0,212.4L402.7,214.0L403.3,215.5L404.0,217.1L404.6,218.6L405.3,220.2L405.9,221.8L406.6,223.4L407.3,225.1L407.9,226.7L408.6,228.4L409.2,230.1L409.9,231.8L410.5,233.5L411.2,235.2L411.9,237.0L412.5,238.8L413.2,240.5L413.8,242.3L414.5,244.2L415.1,246.0L415.8,247.8L416.5,249.7L417.1,251.6L417.8,253.5L418.4,255.4L419.1,257.3L419.7,259.2L420.4,261.1L421.1,262.9L421.7,264.7L422.4,266.4L423.0,268.1L423.7,269.6L424.3,271.1L425.0,272.5L425.7,273.9L426.3,275.2L427.0,276.5L427.6,277.8L428.3,279.1L429.0,280.3L429.6,281.6L430.3,282.9L430.9,284.1L431.6,285.3L432.2,286.4L432.9,287.5L433.6,288.5L434.2,289.5L434.9,290.4L435.5,291.2L436.2,291.9L436.8,292.6L437.5,293.1L438.2,293.6L438.8,293.9L439.5,294.2L440.1,294.4L440.8,294.5L441.4,294.5L442.1,294.4L442.8,294.2L443.4,293.8L444.1,293.4L444.7,292.9L445.4,292.2L446.0,291.5L446.7,290.6L447.4,289.6L448.0,288.5L448.7,287.2L449.3,285.9L450.0,284.5L450.6,283.0L451.3,281.4L452.0,279.7L452.6,278.0L453.3,276.2L453.9,274.4L454.6,272.6L455.2,270.7L455.9,268.8L456.6,267.0L457.2,265.1L457.9,263.3L458.5,261.5L459.2,259.7L459.8,258.0L460.5,256.4L461.2,254.8L461.8,253.4L462.5,252.0L463.1,250.7L463.8,249.6L464.4,248.5L465.1,247.5L465.8,246.6L466.4,245.9L467.1,245.2L467.7,244.7L468.4,244.3L469.1,244.0L469.7,243.8L470.4,243.8L471.0,243.9L471.7,244.1L472.3,244.4L473.0,244.9L473.7,245.5L474.3,246.2L475.0,247.1L475.6,248.1L476.3,249.2L476.9,250.5L477.6,251.9L478.3,253.5L478.9,255.2L479.6,257.1L480.2,259.1L480.9,261.3L481.5,263.7L482.2,266.2L482.9,268.9L483.5,271.8L484.2,274.6L484.8,277.6L485.5,280.6L486.1,283.6L486.8,286.5L487.5,289.5L488.1,292.4L488.8,295.2L489.4,298.1L490.1,300.9L490.7,303.6L491.4,306.4L492.1,309.1L492.7,311.8L493.4,314.4L494.0,317.0L494.7,319.6L495.3,322.1L496.0,324.5L496.7,326.9L497.3,329.2L498.0,331.4L498.6,333.5L499.3,335.5L499.9,337.4L500.6,339.3L501.3,341.0L501.9,342.7L502.6,344.3L503.2,345.8L503.9,347.3L504.5,348.7L505.2,350.1L505.9,351.4L506.5,352.7L507.2,354.0L507.8,355.2L508.5,356.4L509.1,357.5L509.8,358.5L510.5,359.5L511.1,360.5L511.8,361.3L512.4,362.1L513.1,362.9L513.8,363.5L514.4,364.2L515.1,364.7L515.7,365.2L516.4,365.7L517.0,366.1L517.7,366.4L518.4,366.8L519.0,367.1L519.7,367.4L520.3,367.6L521.0,367.9L521.6,368.1L522.3,368.4L523.0,368.6L523.6,368.8L524.3,369.0L524.9,369.2L525.6,369.4L526.2,369.6L526.9,369.8L527.6,370.0L528.2,370.1L528.9,370.3L529.5,370.5L530.2,370.7L530.8,370.8L531.5,371.0" fill="none" stroke="#ff8000" stroke-width="2.3"/>
<path d="M72.0,371.3L72.7,371.3L73.3,371.3L74.0,371.3L74.6,371.3L75.3,371.3L75.9,371.3L76.6,371.3L77.3,371.3L77.9,371.3L78.6,371.3L79.2,371.3L79.9,371.3L80.5,371.3L81.2,371.3L81.9,371.3L82.5,371.3L83.2,371.3L83.8,371.3L84.5,371.3L85.1,371.3L85.8,371.3L86.5,371.3L87.1,371.3L87.8,371.2L88.4,371.2L89.1,371.2L89.7,371.2L90.4,371.2L91.1,371.2L91.7,371.2L92.4,371.2L93.0,371.2L93.7,371.2L94.4,371.2L95.0,371.2L95.7,371.2L96.3,371.2L97.0,371.2L97.6,371.2L98.3,371.2L99.0,371.2L99.6,371.2L100.3,371.2L100.9,371.2L101.6,371.2L102.2,371.2L102.9,371.2L103.6,371.2L104.2,371.2L104.9,371.2L105.5,371.2L106.2,371.2L106.8,371.2L107.5,371.2L108.2,371.2L108.8,371.2L109.5,371.2L110.1,371.2L110.8,371.2L111.4,371.2L112.1,371.2L112.8,371.2L113.4,371.2L114.1,371.2L114.7,371.2L115.4,371.2L116.0,371.2L116.7,371.2L117.4,371.2L118.0,371.2L118.7,371.2L119.3,371.2L120.0,371.2L120.6,371.3L121.3,371.3L122.0,371.3L122.6,371.3L123.3,371.3L123.9,371.3L124.6,371.3L125.2,371.3L125.9,371.3L126.6,371.3L127.2,371.3L127.9,371.3L128.5,371.3L129.2,371.3L129.8,371.3L130.5,371.2L131.2,371.2L131.8,371.2L132.5,371.2L133.1,371.2L133.8,371.1L134.4,371.1L135.1,371.1L135.8,371.0L136.4,371.0L137.1,370.9L137.7,370.9L138.4,370.8L139.1,370.8L139.7,370.7L140.4,370.6L141.0,370.5L141.7,370.4L142.3,370.4L143.0,370.3L143.7,370.2L144.3,370.1L145.0,370.0L145.6,369.9L146.3,369.8L146.9,369.7L147.6,369.6L148.3,369.5L148.9,369.4L149.6,369.3L150.2,369.3L150.9,369.2L151.5,369.1L152.2,369.0L152.9,368.9L153.5,368.8L154.2,368.7L154.8,368.6L155.5,368.5L156.1,368.4L156.8,368.3L157.5,368.1L158.1,368.0L158.8,367.9L159.4,367.7L160.1,367.6L160.7,367.4L161.4,367.3L162.1,367.1L162.7,366.9L163.4,366.7L164.0,366.5L164.7,366.3L165.3,366.1L166.0,365.8L166.7,365.6L167.3,365.3L168.0,365.1L168.6,364.8L169.3,364.6L169.9,364.3L170.6,364.0L171.3,363.7L171.9,363.4L172.6,363.1L173.2,362.8L173.9,362.5L174.5,362.2L175.2,361.8L175.9,361.5L176.5,361.2L177.2,360.9L177.8,360.5L178.5,360.2L179.2,359.8L179.8,359.5L180.5,359.1L181.1,358.7L181.8,358.3L182.4,357.9L183.1,357.6L183.8,357.2L184.4,356.7L185.1,356.3L185.7,355.9L186.4,355.5L187.0,355.0L187.7,354.5L188.4,354.1L189.0,353.6L189.7,353.1L190.3,352.6L191.0,352.1L191.6,351.6L192.3,351.0L193.0,350.5L193.6,349.9L194.3,349.3L194.9,348.7L195.6,348.2L196.2,347.6L196.9,347.0L197.6,346.3L198.2,345.7L198.9,345.1L199.5,344.5L200.2,343.9L200.8,343.2L201.5,342.6L202.2,342.0L202.8,341.3L203.5,340.7L204.1,340.1L204.8,339.4L205.4,338.8L206.1,338.2L206.8,337.6L207.4,336.9L208.1,336.3L208.7,335.7L209.4,335.1L210.0,334.5L210.7,333.9L211.4,333.3L212.0,332.7L212.7,332.1L213.3,331.6L214.0,331.0L214.6,330.4L215.3,329.9L216.0,329.3L216.6,328.8L217.3,328.2L217.9,327.7L218.6,327.2L219.3,326.6L219.9,326.1L220.6,325.6L221.2,325.1L221.9,324.6L222.5,324.1L223.2,323.7L223.9,323.2L224.5,322.7L225.2,322.3L225.8,321.9L226.5,321.4L227.1,321.0L227.8,320.6L228.5,320.2L229.1,319.8L229.8,319.4L230.4,319.0L231.1,318.7L231.7,318.3L232.4,318.0L233.1,317.6L233.7,317.3L234.4,317.0L235.0,316.7L235.7,316.4L236.3,316.1L237.0,315.9L237.7,315.6L238.3,315.4L239.0,315.1L239.6,314.9L240.3,314.7L240.9,314.4L241.6,314.2L242.3,314.0L242.9,313.8L243.6,313.6L244.2,313.4L244.9,313.2L245.5,313.0L246.2,312.9L246.9,312.7L247.5,312.5L248.2,312.3L248.8,312.1L249.5,312.0L250.1,311.8L250.8,311.6L251.5,311.4L252.1,311.2L252.8,311.1L253.4,310.9L254.1,310.7L254.7,310.5L255.4,310.3L256.1,310.0L256.7,309.8L257.4,309.6L258.0,309.3L258.7,309.1L259.3,308.8L260.0,308.5L260.7,308.3L261.3,308.0L262.0,307.6L262.6,307.3L263.3,306.9L264.0,306.6L264.6,306.1L265.3,305.7L265.9,305.2L266.6,304.7L267.2,304.2L267.9,303.6L268.6,303.0L269.2,302.4L269.9,301.7L270.5,300.9L271.2,300.1L271.8,299.3L272.5,298.3L273.2,297.4L273.8,296.3L274.5,295.2L275.1,294.0L275.8,292.8L276.4,291.4L277.1,290.0L277.8,288.5L278.4,286.9L279.1,285.2L279.7,283.4L280.4,281.5L281.0,279.4L281.7,277.3L282.4,275.0L283.0,272.6L283.7,270.1L284.3,267.5L285.0,264.8L285.6,262.0L286.3,259.1L287.0,256.0L287.6,252.9L288.3,249.8L288.9,246.5L289.6,243.1L290.2,239.7L290.9,236.1L291.6,232.3L292.2,228.4L292.9,224.3L293.5,220.0L294.2,215.5L294.8,211.0L295.5,206.5L296.2,202.0L296.8,197.5L297.5,193.2L298.1,189.0L298.8,184.8L299.4,180.8L300.1,176.9L300.8,173.0L301.4,169.2L302.1,165.4L302.7,161.7L303.4,158.0L304.1,154.3L304.7,150.6L305.4,146.9L306.0,143.2L306.7,139.6L307.3,135.9L308.0,132.2L308.7,128.5L309.3,124.9L310.0,121.2L310.6,117.6L311.3,113.9L311.9,110.3L312.6,106.7L313.3,103.1L313.9,99.5L314.6,95.9L315.2,92.4L315.9,89.0L316.5,85.6L317.2,82.3L317.9,79.0L318.5,75.9L319.2,72.8L319.8,69.9L320.5,67.1L321.1,64.4L321.8,61.8L322.5,59.4L323.1,57.1L323.8,54.9L324.4,52.9L325.1,51.0L325.7,49.2L326.4,47.7L327.1,46.2L327.7,44.9L328.4,43.7L329.0,42.7L329.7,41.8L330.3,41.1L331.0,40.5L331.7,40.0L332.3,39.6L333.0,39.4L333.6,39.3L334.3,39.4L334.9,39.6L335.6,39.9L336.3,40.3L336.9,40.8L337.6,41.4L338.2,42.1L338.9,42.9L339.5,43.8L340.2,44.8L340.9,46.0L341.5,47.3L342.2,48.8L342.8,50.4L343.5,52.1L344.2,54.0L344.8,55.9L345.5,58.0L346.1,60.1L346.8,62.3L347.4,64.5L348.1,66.8L348.8,69.2L349.4,71.6L350.1,74.0L350.7,76.5L351.4,78.9L352.0,81.4L352.7,83.9L353.4,86.4L354.0,88.9L354.7,91.5L355.3,94.0L356.0,96.5L356.6,99.0L357.3,101.4L358.0,103.9L358.6,106.3L359.3,108.7L359.9,111.1L360.6,113.4L361.2,115.8L361.9,118.1L362.6,120.3L363.2,122.6L363.9,124.9L364.5,127.2L365.2,129.5L365.8,131.8L366.5,134.2L367.2,136.5L367.8,138.7L368.5,140.8L369.1,142.7L369.8,144.5L370.4,146.1L371.1,147.7L371.8,149.2L372.4,150.8L373.1,152.3L373.7,153.9L374.4,155.6L375.0,157.3L375.7,159.0L376.4,160.7L377.0,162.4L377.7,164.1L378.3,165.7L379.0,167.4L379.6,168.9L380.3,170.5L381.0,172.0L381.6,173.4L382.3,174.9L382.9,176.3L383.6,177.6L384.2,178.9L384.9,180.2L385.6,181.4L386.2,182.6L386.9,183.8L387.5,185.0L388.2,186.1L388.9,187.2L389.5,188.3L390.2,189.3L390.8,190.4L391.5,191.5L392.1,192.6L392.8,193.7L393.5,194.8L394.1,195.9L394.8,197.1L395.4,198.3L396.1,199.5L396.7,200.8L397.4,202.1L398.1,203.5L398.7,204.9L399.4,206.3L400.0,207.7L400.7,209.1L401.3,210.6L402.0,212.1L402.7,213.6L403.3,215.1L404.0,216.7L404.6,218.3L405.3,219.9L405.9,221.5L406.6,223.1L407.3,224.7L407.9,226.4L408.6,228.0L409.2,229.7L409.9,231.4L410.5,233.2L411.2,234.9L411.9,236.6L412.5,238.4L413.2,240.2L413.8,242.0L414.5,243.8L415.1,245.6L415.8,247.5L416.5,249.4L417.1,251.2L417.8,253.1L418.4,255.0L419.1,256.9L419.7,258.8L420.4,260.7L421.1,262.6L421.7,264.4L422.4,266.1L423.0,267.7L423.7,269.3L424.3,270.8L425.0,272.2L425.7,273.5L426.3,274.9L427.0,276.2L427.6,277.4L428.3,278.7L429.0,280.0L429.6,281.3L430.3,282.5L430.9,283.7L431.6,284.9L432.2,286.1L432.9,287.1L433.6,288.2L434.2,289.1L434.9,290.0L435.5,290.8L436.2,291.6L436.8,292.2L437.5,292.8L438.2,293.2L438.8,293.6L439.5,293.9L440.1,294.1L440.8,294.1L441.4,294.1L442.1,294.0L442.8,293.8L443.4,293.5L444.1,293.1L444.7,292.5L445.4,291.9L446.0,291.1L446.7,290.2L447.4,289.2L448.0,288.1L448.7,286.9L449.3,285.6L450.0,284.1L450.6,282.6L451.3,281.0L452.0,279.4L452.6,277.7L453.3,275.9L453.9,274.1L454.6,272.2L455.2,270.4L455.9,268.5L456.6,266.6L457.2,264.8L457.9,262.9L458.5,261.1L459.2,259.3L459.8,257.6L460.5,256.0L461.2,254.5L461.8,253.0L462.5,251.7L463.1,250.4L463.8,249.2L464.4,248.1L465.1,247.2L465.8,246.3L466.4,245.5L467.1,244.9L467.7,244.4L468.4,244.0L469.1,243.7L469.7,243.5L470.4,243.5L471.0,243.5L471.7,243.7L472.3,244.1L473.0,244.6L473.7,245.2L474.3,245.9L475.0,246.8L475.6,247.7L476.3,248.9L476.9,250.1L477.6,251.6L478.3,253.1L478.9,254.8L479.6,256.7L480.2,258.7L480.9,261.0L481.5,263.3L482.2,265.9L482.9,268.6L483.5,271.4L484.2,274.3L484.8,277.3L485.5,280.2L486.1,283.2L486.8,286.2L487.5,289.1L488.1,292.0L488.8,294.9L489.4,297.7L490.1,300.5L490.7,303.3L491.4,306.0L492.1,308.7L492.7,311.4L493.4,314.1L494.0,316.7L494.7,319.2L495.3,321.7L496.0,324.2L496.7,326.5L497.3,328.8L498.0,331.0L498.6,333.1L499.3,335.2L499.9,337.1L500.6,338.9L501.3,340.7L501.9,342.3L502.6,343.9L503.2,345.5L503.9,346.9L504.5,348.4L505.2,349.7L505.9,351.1L506.5,352.4L507.2,353.6L507.8,354.9L508.5,356.0L509.1,357.1L509.8,358.2L510.5,359.2L511.1,360.1L511.8,361.0L512.4,361.8L513.1,362.5L513.8,363.2L514.4,363.8L515.1,364.4L515.7,364.9L516.4,365.3L517.0,365.7L517.7,366.1L518.4,366.4L519.0,366.7L519.7,367.0L520.3,367.3L521.0,367.5L521.6,367.8L522.3,368.0L523.0,368.2L523.6,368.5L524.3,368.7L524.9,368.9L525.6,369.1L526.2,369.3L526.9,369.4L527.6,369.6L528.2,369.8L528.9,370.0L529.5,370.1L530.2,370.3L530.8,370.5L531.5,370.7" fill="none" stroke="#000" stroke-width="1.25" stroke-dasharray="5.3 7.2"/>
</g>
<rect x="72.0" y="5.9" width="459.5" height="365.6" fill="none" stroke="#111" stroke-width="1.6"/>
<path d="M72.0,371.5v7.5M110.3,371.5v4.3M148.6,371.5v7.5M186.9,371.5v4.3M225.2,371.5v7.5M263.5,371.5v4.3M301.8,371.5v7.5M340.0,371.5v4.3M378.3,371.5v7.5M416.6,371.5v4.3M454.9,371.5v7.5M493.2,371.5v4.3M531.5,371.5v7.5M72.0,371.5h-7.0M72.0,338.2h-4.0M72.0,304.9h-7.0M72.0,271.6h-4.0M72.0,238.3h-7.0M72.0,205.0h-4.0M72.0,171.7h-7.0M72.0,138.4h-4.0M72.0,105.1h-7.0M72.0,71.8h-4.0M72.0,38.5h-7.0" stroke="#111" stroke-width="1.6" fill="none"/>
<g font-family="'Liberation Sans', sans-serif" fill="#000" stroke="#000" stroke-width="0.25">
<g font-size="15.8" text-anchor="middle">
<text x="72.0" y="395.7">100</text>
<text x="148.6" y="395.7">200</text>
<text x="225.2" y="395.7">300</text>
<text x="301.8" y="395.7">400</text>
<text x="378.3" y="395.7">500</text>
<text x="454.9" y="395.7">600</text>
<text x="531.5" y="395.7">700</text>
</g>
<g font-size="15.8" text-anchor="end">
<text x="59.8" y="376.8">0.0</text>
<text x="59.8" y="310.2">1.0</text>
<text x="59.8" y="243.6">2.0</text>
<text x="59.8" y="177.0">3.0</text>
<text x="59.8" y="110.4">4.0</text>
<text x="59.8" y="43.8">5.0</text>
</g>
<text x="279.5" y="424.8" font-size="19.5" text-anchor="middle">Temperature (<tspan font-size="13.5" dy="-7">o</tspan><tspan dy="7">C)</tspan></text>
<text transform="translate(22.1,177.0) rotate(-90)" font-size="19.3" text-anchor="middle">CO<tspan font-size="13" dy="5">2 </tspan><tspan dy="-5">concentration (mol%)</tspan></text>
<g font-size="15.65">
<text x="126" y="26.0">Spent sample</text>
<text x="126" y="44.7">Glass wool</text>
<text x="126" y="63.9">Soft coke</text>
<text x="126" y="82.9">Hard coke</text>
<text x="126" y="102.2">Graphitic coke</text>
<text x="126" y="170.9">Cumulative Fit Peak</text>
<text x="126" y="124.3">CO<tspan font-size="11.3" dy="4.6">2</tspan><tspan dy="-4.6"> regen at 830</tspan><tspan font-size="11.5" dy="-5.8">o</tspan><tspan dy="5.8">C</tspan></text>
<text x="126" y="148.7">CO<tspan font-size="11.3" dy="4.6">2</tspan><tspan dy="-4.6"> regen at 860</tspan><tspan font-size="11.5" dy="-5.8">o</tspan><tspan dy="5.8">C</tspan></text>
</g></g>
<path d="M86,20.8H121.3" stroke="#ff8000" stroke-width="2.2"/>
<rect x="85.7" y="31.4" width="35.4" height="16.4" fill="#ffe7d5" fill-opacity="0.5"/>
<rect x="85.7" y="50.6" width="35.4" height="16.6" fill="#fbc9a8" fill-opacity="0.5"/>
<rect x="85.7" y="69.9" width="35.4" height="16.2" fill="#fba466" fill-opacity="0.54" stroke="#fba568" stroke-opacity="0.5" stroke-dasharray="5 3"/>
<rect x="85.7" y="88.4" width="35.4" height="17.9" fill="#ff1000" fill-opacity="0.5" stroke="#f02828" stroke-opacity="0.85" stroke-dasharray="9 6"/>
<path d="M86,118.8H121.3" stroke="#000080" stroke-width="2.1"/>
<path d="M86,143.2H121.3" stroke="#0a7a0a" stroke-width="2.1"/>
<path d="M87.7,165.7H121.3" stroke="#000" stroke-width="1.5" stroke-dasharray="6 7.7"/>
</svg>
</body></html>
